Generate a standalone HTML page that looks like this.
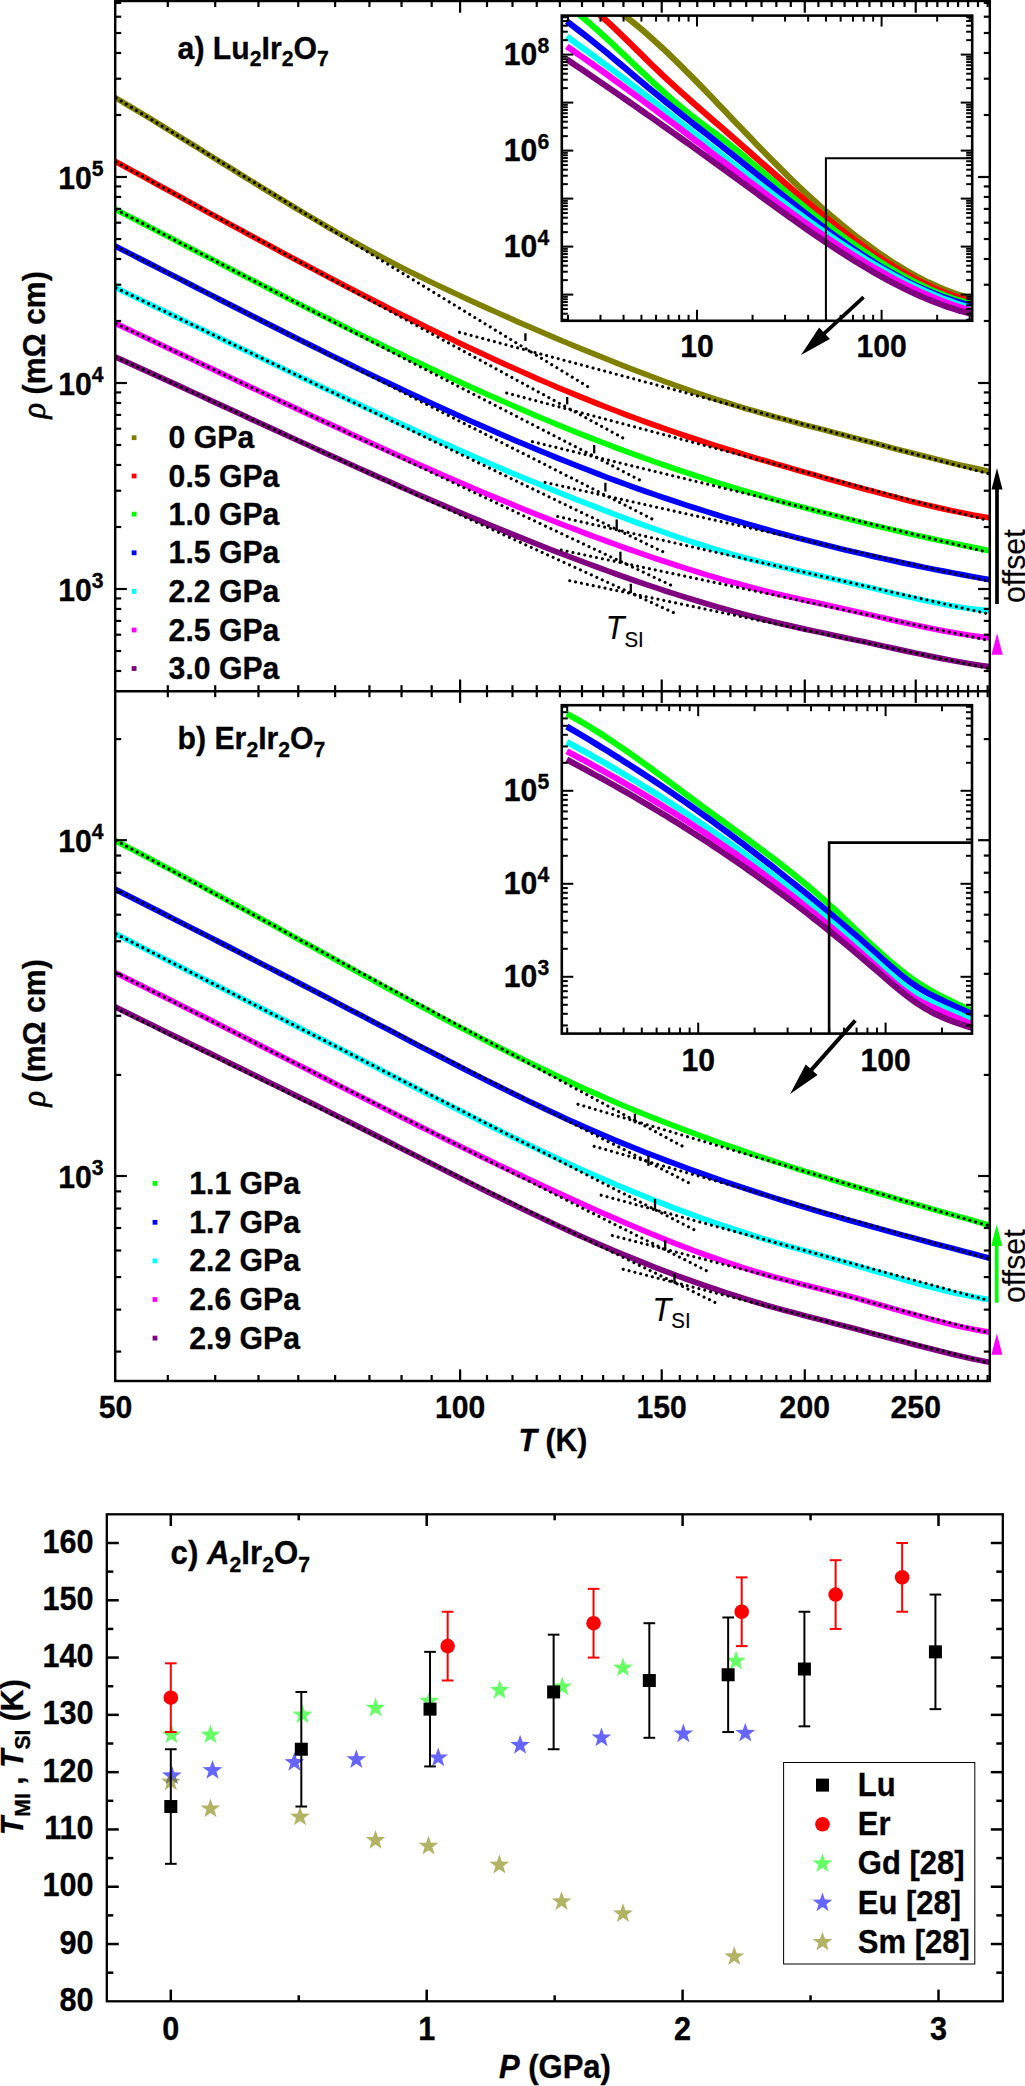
<!DOCTYPE html>
<html><head><meta charset="utf-8"><title>Figure</title><style>html,body{margin:0;padding:0;background:#fff}svg{display:block}</style></head><body>
<svg width="1025" height="2086" viewBox="0 0 1025 2086" font-family="'Liberation Sans', Arial, Helvetica, sans-serif" fill="#000">
<rect x="0" y="0" width="1025" height="2086" fill="#fff"/>
<defs>
<clipPath id="cpA"><rect x="115.2" y="1.0" width="874.5999999999999" height="690.2"/></clipPath>
<clipPath id="cpB"><rect x="115.2" y="691.2" width="874.5999999999999" height="689.8"/></clipPath>
<clipPath id="cpIA"><rect x="561.8" y="15.6" width="410.4000000000001" height="305.2"/></clipPath>
<clipPath id="cpIB"><rect x="561.8" y="705.2" width="410.20000000000005" height="328.39999999999986"/></clipPath>
</defs>
<path d="M112.0,95.7 L121.9,101.6 L131.8,107.5 L141.7,113.4 L151.6,119.4 L161.5,125.5 L171.4,131.6 L181.3,137.7 L191.2,143.8 L201.1,149.9 L211.0,156.1 L220.9,162.2 L230.8,168.3 L240.7,174.5 L250.6,180.6 L260.5,186.7 L270.4,192.7 L280.3,198.8 L290.2,204.7 L300.1,210.7 L310.0,216.6 L319.9,222.4 L329.8,228.2 L339.7,233.9 L349.6,239.5 L359.5,245.0 L369.4,250.4 L379.3,255.8 L389.2,261.0 L399.1,266.2 L409.0,271.2 L418.9,276.1 L428.8,281.0 L438.7,285.7 L448.6,290.4 L458.5,295.0 L468.4,299.6 L478.3,304.1 L488.2,308.6 L498.1,313.0 L508.0,317.4 L517.9,321.8 L527.8,326.1 L537.7,330.4 L547.6,334.6 L557.4,338.8 L567.3,343.0 L577.2,347.1 L587.1,351.2 L597.0,355.2 L606.9,359.2 L616.8,363.2 L626.7,367.1 L636.6,370.9 L646.5,374.7 L656.4,378.4 L666.3,382.1 L676.2,385.6 L686.1,389.1 L696.0,392.6 L705.9,395.9 L715.8,399.2 L725.7,402.3 L735.6,405.4 L745.5,408.4 L755.4,411.3 L765.3,414.1 L775.2,416.9 L785.1,419.6 L795.0,422.3 L804.9,424.9 L814.8,427.5 L824.7,430.1 L834.6,432.7 L844.5,435.3 L854.4,437.9 L864.3,440.5 L874.2,443.1 L884.1,445.8 L894.0,448.4 L903.9,451.0 L913.8,453.5 L923.7,456.1 L933.6,458.5 L943.5,461.0 L953.4,463.4 L963.3,465.7 L973.2,467.9 L983.1,470.1 L993.0,472.2" fill="none" stroke="#808000" stroke-width="5.7" stroke-linejoin="round" clip-path="url(#cpA)"/>
<path d="M112.0,159.5 L121.9,164.9 L131.8,170.4 L141.7,175.8 L151.6,181.3 L161.5,186.7 L171.4,192.1 L181.3,197.6 L191.2,203.0 L201.1,208.4 L211.0,213.9 L220.9,219.3 L230.8,224.7 L240.7,230.1 L250.6,235.4 L260.5,240.8 L270.4,246.1 L280.3,251.5 L290.2,256.8 L300.1,262.1 L310.0,267.3 L319.9,272.6 L329.8,277.8 L339.7,283.0 L349.6,288.1 L359.5,293.3 L369.4,298.4 L379.3,303.4 L389.2,308.5 L399.1,313.5 L409.0,318.4 L418.9,323.3 L428.8,328.2 L438.7,333.0 L448.6,337.8 L458.5,342.6 L468.4,347.3 L478.3,351.9 L488.2,356.5 L498.1,361.1 L508.0,365.6 L517.9,370.0 L527.8,374.4 L537.7,378.8 L547.6,383.0 L557.4,387.3 L567.3,391.4 L577.2,395.5 L587.1,399.5 L597.0,403.5 L606.9,407.4 L616.8,411.2 L626.7,415.0 L636.6,418.6 L646.5,422.2 L656.4,425.8 L666.3,429.2 L676.2,432.6 L686.1,436.0 L696.0,439.3 L705.9,442.5 L715.8,445.6 L725.7,448.8 L735.6,451.8 L745.5,454.9 L755.4,457.9 L765.3,460.8 L775.2,463.7 L785.1,466.6 L795.0,469.5 L804.9,472.3 L814.8,475.1 L824.7,477.9 L834.6,480.7 L844.5,483.4 L854.4,486.2 L864.3,488.9 L874.2,491.6 L884.1,494.2 L894.0,496.8 L903.9,499.4 L913.8,501.9 L923.7,504.3 L933.6,506.6 L943.5,508.9 L953.4,511.0 L963.3,513.0 L973.2,515.0 L983.1,516.7 L993.0,518.4" fill="none" stroke="#ff0000" stroke-width="5.7" stroke-linejoin="round" clip-path="url(#cpA)"/>
<path d="M112.0,207.6 L121.9,212.7 L131.8,217.8 L141.7,222.9 L151.6,228.1 L161.5,233.2 L171.4,238.3 L181.3,243.5 L191.2,248.6 L201.1,253.7 L211.0,258.8 L220.9,264.0 L230.8,269.1 L240.7,274.2 L250.6,279.2 L260.5,284.3 L270.4,289.4 L280.3,294.4 L290.2,299.5 L300.1,304.5 L310.0,309.5 L319.9,314.5 L329.8,319.4 L339.7,324.4 L349.6,329.3 L359.5,334.2 L369.4,339.0 L379.3,343.9 L389.2,348.7 L399.1,353.4 L409.0,358.2 L418.9,362.9 L428.8,367.6 L438.7,372.2 L448.6,376.8 L458.5,381.4 L468.4,385.9 L478.3,390.4 L488.2,394.8 L498.1,399.2 L508.0,403.5 L517.9,407.8 L527.8,412.1 L537.7,416.3 L547.6,420.5 L557.4,424.6 L567.3,428.6 L577.2,432.6 L587.1,436.5 L597.0,440.4 L606.9,444.2 L616.8,448.0 L626.7,451.7 L636.6,455.3 L646.5,458.9 L656.4,462.4 L666.3,465.8 L676.2,469.2 L686.1,472.5 L696.0,475.8 L705.9,479.0 L715.8,482.1 L725.7,485.2 L735.6,488.2 L745.5,491.2 L755.4,494.1 L765.3,496.9 L775.2,499.7 L785.1,502.5 L795.0,505.2 L804.9,507.8 L814.8,510.5 L824.7,513.0 L834.6,515.6 L844.5,518.1 L854.4,520.6 L864.3,523.0 L874.2,525.4 L884.1,527.8 L894.0,530.1 L903.9,532.4 L913.8,534.7 L923.7,536.9 L933.6,539.1 L943.5,541.2 L953.4,543.3 L963.3,545.4 L973.2,547.4 L983.1,549.4 L993.0,551.4" fill="none" stroke="#00ff00" stroke-width="5.7" stroke-linejoin="round" clip-path="url(#cpA)"/>
<path d="M112.0,244.4 L121.9,249.5 L131.8,254.5 L141.7,259.6 L151.6,264.6 L161.5,269.7 L171.4,274.8 L181.3,279.8 L191.2,284.9 L201.1,290.0 L211.0,295.0 L220.9,300.1 L230.8,305.1 L240.7,310.1 L250.6,315.1 L260.5,320.1 L270.4,325.1 L280.3,330.1 L290.2,335.1 L300.1,340.0 L310.0,344.9 L319.9,349.8 L329.8,354.7 L339.7,359.5 L349.6,364.4 L359.5,369.2 L369.4,374.0 L379.3,378.7 L389.2,383.4 L399.1,388.1 L409.0,392.8 L418.9,397.4 L428.8,402.0 L438.7,406.5 L448.6,411.1 L458.5,415.5 L468.4,420.0 L478.3,424.4 L488.2,428.7 L498.1,433.1 L508.0,437.3 L517.9,441.6 L527.8,445.7 L537.7,449.9 L547.6,453.9 L557.4,458.0 L567.3,461.9 L577.2,465.9 L587.1,469.7 L597.0,473.5 L606.9,477.3 L616.8,481.0 L626.7,484.6 L636.6,488.2 L646.5,491.7 L656.4,495.1 L666.3,498.5 L676.2,501.8 L686.1,505.1 L696.0,508.3 L705.9,511.4 L715.8,514.5 L725.7,517.6 L735.6,520.5 L745.5,523.4 L755.4,526.3 L765.3,529.1 L775.2,531.9 L785.1,534.6 L795.0,537.2 L804.9,539.8 L814.8,542.3 L824.7,544.8 L834.6,547.3 L844.5,549.7 L854.4,552.0 L864.3,554.3 L874.2,556.6 L884.1,558.8 L894.0,560.9 L903.9,563.1 L913.8,565.1 L923.7,567.2 L933.6,569.2 L943.5,571.1 L953.4,573.0 L963.3,574.9 L973.2,576.8 L983.1,578.5 L993.0,580.3" fill="none" stroke="#0000ff" stroke-width="5.7" stroke-linejoin="round" clip-path="url(#cpA)"/>
<path d="M112.0,285.9 L121.9,290.7 L131.8,295.5 L141.7,300.3 L151.6,305.1 L161.5,309.8 L171.4,314.6 L181.3,319.4 L191.2,324.2 L201.1,329.0 L211.0,333.8 L220.9,338.6 L230.8,343.4 L240.7,348.2 L250.6,352.9 L260.5,357.7 L270.4,362.5 L280.3,367.2 L290.2,372.0 L300.1,376.7 L310.0,381.4 L319.9,386.1 L329.8,390.8 L339.7,395.4 L349.6,400.1 L359.5,404.7 L369.4,409.3 L379.3,413.9 L389.2,418.5 L399.1,423.1 L409.0,427.6 L418.9,432.1 L428.8,436.6 L438.7,441.0 L448.6,445.4 L458.5,449.8 L468.4,454.2 L478.3,458.5 L488.2,462.8 L498.1,467.0 L508.0,471.3 L517.9,475.5 L527.8,479.6 L537.7,483.7 L547.6,487.8 L557.4,491.8 L567.3,495.8 L577.2,499.8 L587.1,503.7 L597.0,507.5 L606.9,511.3 L616.8,515.1 L626.7,518.8 L636.6,522.5 L646.5,526.1 L656.4,529.6 L666.3,533.1 L676.2,536.6 L686.1,539.9 L696.0,543.2 L705.9,546.3 L715.8,549.4 L725.7,552.4 L735.6,555.2 L745.5,557.9 L755.4,560.5 L765.3,563.0 L775.2,565.4 L785.1,567.8 L795.0,570.1 L804.9,572.4 L814.8,574.6 L824.7,576.9 L834.6,579.2 L844.5,581.5 L854.4,583.9 L864.3,586.2 L874.2,588.6 L884.1,591.0 L894.0,593.4 L903.9,595.7 L913.8,598.0 L923.7,600.2 L933.6,602.3 L943.5,604.3 L953.4,606.1 L963.3,607.7 L973.2,609.1 L983.1,610.2 L993.0,611.1" fill="none" stroke="#00ffff" stroke-width="5.7" stroke-linejoin="round" clip-path="url(#cpA)"/>
<path d="M112.0,321.7 L121.9,326.4 L131.8,331.0 L141.7,335.7 L151.6,340.3 L161.5,345.0 L171.4,349.7 L181.3,354.4 L191.2,359.0 L201.1,363.7 L211.0,368.4 L220.9,373.1 L230.8,377.8 L240.7,382.4 L250.6,387.1 L260.5,391.8 L270.4,396.4 L280.3,401.1 L290.2,405.7 L300.1,410.4 L310.0,415.0 L319.9,419.6 L329.8,424.2 L339.7,428.7 L349.6,433.3 L359.5,437.8 L369.4,442.4 L379.3,446.8 L389.2,451.3 L399.1,455.8 L409.0,460.2 L418.9,464.6 L428.8,468.9 L438.7,473.3 L448.6,477.6 L458.5,481.9 L468.4,486.1 L478.3,490.3 L488.2,494.5 L498.1,498.6 L508.0,502.7 L517.9,506.8 L527.8,510.8 L537.7,514.8 L547.6,518.7 L557.4,522.6 L567.3,526.4 L577.2,530.2 L587.1,534.0 L597.0,537.7 L606.9,541.3 L616.8,544.9 L626.7,548.5 L636.6,551.9 L646.5,555.4 L656.4,558.7 L666.3,562.0 L676.2,565.3 L686.1,568.4 L696.0,571.5 L705.9,574.6 L715.8,577.5 L725.7,580.4 L735.6,583.1 L745.5,585.8 L755.4,588.4 L765.3,591.0 L775.2,593.4 L785.1,595.7 L795.0,598.0 L804.9,600.2 L814.8,602.4 L824.7,604.5 L834.6,606.7 L844.5,609.0 L854.4,611.2 L864.3,613.5 L874.2,615.8 L884.1,618.1 L894.0,620.4 L903.9,622.6 L913.8,624.8 L923.7,626.9 L933.6,628.9 L943.5,630.9 L953.4,632.6 L963.3,634.3 L973.2,635.8 L983.1,637.1 L993.0,638.2" fill="none" stroke="#ff00ff" stroke-width="5.7" stroke-linejoin="round" clip-path="url(#cpA)"/>
<path d="M112.0,355.4 L121.9,359.9 L131.8,364.4 L141.7,368.9 L151.6,373.4 L161.5,377.9 L171.4,382.4 L181.3,386.9 L191.2,391.5 L201.1,396.0 L211.0,400.6 L220.9,405.1 L230.8,409.7 L240.7,414.2 L250.6,418.8 L260.5,423.3 L270.4,427.9 L280.3,432.4 L290.2,437.0 L300.1,441.5 L310.0,446.0 L319.9,450.6 L329.8,455.1 L339.7,459.5 L349.6,464.0 L359.5,468.5 L369.4,472.9 L379.3,477.3 L389.2,481.7 L399.1,486.1 L409.0,490.5 L418.9,494.8 L428.8,499.1 L438.7,503.4 L448.6,507.6 L458.5,511.8 L468.4,516.0 L478.3,520.2 L488.2,524.3 L498.1,528.4 L508.0,532.5 L517.9,536.5 L527.8,540.4 L537.7,544.4 L547.6,548.3 L557.4,552.1 L567.3,555.9 L577.2,559.7 L587.1,563.4 L597.0,567.0 L606.9,570.7 L616.8,574.2 L626.7,577.7 L636.6,581.2 L646.5,584.6 L656.4,587.9 L666.3,591.2 L676.2,594.4 L686.1,597.5 L696.0,600.5 L705.9,603.5 L715.8,606.5 L725.7,609.3 L735.6,612.0 L745.5,614.7 L755.4,617.3 L765.3,619.8 L775.2,622.3 L785.1,624.6 L795.0,626.9 L804.9,629.1 L814.8,631.2 L824.7,633.3 L834.6,635.5 L844.5,637.6 L854.4,639.7 L864.3,641.8 L874.2,644.0 L884.1,646.2 L894.0,648.4 L903.9,650.6 L913.8,652.7 L923.7,654.8 L933.6,656.9 L943.5,658.9 L953.4,660.7 L963.3,662.5 L973.2,664.2 L983.1,665.7 L993.0,667.0" fill="none" stroke="#800080" stroke-width="5.7" stroke-linejoin="round" clip-path="url(#cpA)"/>
<line x1="116.00" y1="97.90" x2="588.50" y2="387.10" stroke="#000" stroke-width="3.1" stroke-linecap="round" stroke-dasharray="0.01 6.0" clip-path="url(#cpA)"/>
<line x1="459.50" y1="332.30" x2="988.00" y2="473.60" stroke="#000" stroke-width="3.1" stroke-linecap="round" stroke-dasharray="0.01 6.0" clip-path="url(#cpA)"/>
<line x1="116.00" y1="161.90" x2="623.60" y2="438.30" stroke="#000" stroke-width="3.1" stroke-linecap="round" stroke-dasharray="0.01 6.0" clip-path="url(#cpA)"/>
<line x1="506.70" y1="393.00" x2="988.00" y2="520.50" stroke="#000" stroke-width="3.1" stroke-linecap="round" stroke-dasharray="0.01 6.0" clip-path="url(#cpA)"/>
<line x1="116.00" y1="209.70" x2="644.50" y2="482.40" stroke="#000" stroke-width="3.1" stroke-linecap="round" stroke-dasharray="0.01 6.0" clip-path="url(#cpA)"/>
<line x1="532.50" y1="441.70" x2="988.00" y2="552.30" stroke="#000" stroke-width="3.1" stroke-linecap="round" stroke-dasharray="0.01 6.0" clip-path="url(#cpA)"/>
<line x1="116.00" y1="246.60" x2="656.10" y2="521.00" stroke="#000" stroke-width="3.1" stroke-linecap="round" stroke-dasharray="0.01 6.0" clip-path="url(#cpA)"/>
<line x1="545.10" y1="482.40" x2="988.00" y2="581.00" stroke="#000" stroke-width="3.1" stroke-linecap="round" stroke-dasharray="0.01 6.0" clip-path="url(#cpA)"/>
<line x1="116.00" y1="287.90" x2="666.30" y2="553.40" stroke="#000" stroke-width="3.1" stroke-linecap="round" stroke-dasharray="0.01 6.0" clip-path="url(#cpA)"/>
<line x1="557.70" y1="516.50" x2="988.00" y2="613.80" stroke="#000" stroke-width="3.1" stroke-linecap="round" stroke-dasharray="0.01 6.0" clip-path="url(#cpA)"/>
<line x1="116.00" y1="323.60" x2="670.70" y2="585.10" stroke="#000" stroke-width="3.1" stroke-linecap="round" stroke-dasharray="0.01 6.0" clip-path="url(#cpA)"/>
<line x1="561.20" y1="550.00" x2="988.00" y2="640.30" stroke="#000" stroke-width="3.1" stroke-linecap="round" stroke-dasharray="0.01 6.0" clip-path="url(#cpA)"/>
<line x1="116.00" y1="357.10" x2="678.30" y2="614.80" stroke="#000" stroke-width="3.1" stroke-linecap="round" stroke-dasharray="0.01 6.0" clip-path="url(#cpA)"/>
<line x1="569.70" y1="580.70" x2="988.00" y2="668.30" stroke="#000" stroke-width="3.1" stroke-linecap="round" stroke-dasharray="0.01 6.0" clip-path="url(#cpA)"/>
<line x1="525.40" y1="333.30" x2="525.40" y2="340.90" stroke="#000" stroke-width="2.3" />
<line x1="567.20" y1="397.00" x2="567.20" y2="404.40" stroke="#000" stroke-width="2.3" />
<line x1="594.20" y1="445.00" x2="594.20" y2="453.40" stroke="#000" stroke-width="2.3" />
<line x1="605.40" y1="482.80" x2="605.40" y2="491.60" stroke="#000" stroke-width="2.3" />
<line x1="616.70" y1="519.50" x2="616.70" y2="529.60" stroke="#000" stroke-width="2.3" />
<line x1="620.40" y1="551.70" x2="620.40" y2="561.00" stroke="#000" stroke-width="2.3" />
<line x1="630.80" y1="583.80" x2="630.80" y2="593.00" stroke="#000" stroke-width="2.3" />
<path d="M112.0,839.0 L121.9,844.1 L131.8,849.3 L141.7,854.4 L151.6,859.6 L161.5,864.9 L171.4,870.1 L181.3,875.4 L191.2,880.7 L201.1,886.1 L211.0,891.4 L220.9,896.8 L230.8,902.2 L240.7,907.6 L250.6,913.0 L260.5,918.4 L270.4,923.8 L280.3,929.3 L290.2,934.7 L300.1,940.2 L310.0,945.6 L319.9,951.1 L329.8,956.6 L339.7,962.0 L349.6,967.5 L359.5,972.9 L369.4,978.3 L379.3,983.8 L389.2,989.2 L399.1,994.6 L409.0,1000.0 L418.9,1005.3 L428.8,1010.6 L438.7,1015.9 L448.6,1021.2 L458.5,1026.4 L468.4,1031.6 L478.3,1036.8 L488.2,1041.9 L498.1,1046.9 L508.0,1051.9 L517.9,1056.9 L527.8,1061.8 L537.7,1066.6 L547.6,1071.4 L557.4,1076.1 L567.3,1080.7 L577.2,1085.3 L587.1,1089.8 L597.0,1094.2 L606.9,1098.5 L616.8,1102.8 L626.7,1107.0 L636.6,1111.1 L646.5,1115.1 L656.4,1119.0 L666.3,1122.9 L676.2,1126.7 L686.1,1130.5 L696.0,1134.2 L705.9,1137.8 L715.8,1141.4 L725.7,1144.9 L735.6,1148.3 L745.5,1151.8 L755.4,1155.1 L765.3,1158.4 L775.2,1161.7 L785.1,1164.9 L795.0,1168.1 L804.9,1171.2 L814.8,1174.3 L824.7,1177.4 L834.6,1180.4 L844.5,1183.4 L854.4,1186.4 L864.3,1189.3 L874.2,1192.2 L884.1,1195.1 L894.0,1198.0 L903.9,1200.9 L913.8,1203.7 L923.7,1206.6 L933.6,1209.4 L943.5,1212.2 L953.4,1215.0 L963.3,1217.8 L973.2,1220.6 L983.1,1223.4 L993.0,1226.2" fill="none" stroke="#00ff00" stroke-width="5.7" stroke-linejoin="round" clip-path="url(#cpB)"/>
<path d="M112.0,887.7 L121.9,892.6 L131.8,897.6 L141.7,902.6 L151.6,907.6 L161.5,912.6 L171.4,917.7 L181.3,922.7 L191.2,927.7 L201.1,932.8 L211.0,937.8 L220.9,942.9 L230.8,947.9 L240.7,953.0 L250.6,958.1 L260.5,963.2 L270.4,968.3 L280.3,973.4 L290.2,978.5 L300.1,983.6 L310.0,988.8 L319.9,993.9 L329.8,999.1 L339.7,1004.2 L349.6,1009.4 L359.5,1014.6 L369.4,1019.7 L379.3,1024.9 L389.2,1030.1 L399.1,1035.3 L409.0,1040.5 L418.9,1045.7 L428.8,1050.8 L438.7,1055.9 L448.6,1061.1 L458.5,1066.1 L468.4,1071.2 L478.3,1076.2 L488.2,1081.2 L498.1,1086.1 L508.0,1091.0 L517.9,1095.9 L527.8,1100.7 L537.7,1105.4 L547.6,1110.1 L557.4,1114.7 L567.3,1119.3 L577.2,1123.7 L587.1,1128.1 L597.0,1132.4 L606.9,1136.7 L616.8,1140.8 L626.7,1144.9 L636.6,1148.9 L646.5,1152.9 L656.4,1156.7 L666.3,1160.5 L676.2,1164.2 L686.1,1167.9 L696.0,1171.5 L705.9,1175.0 L715.8,1178.5 L725.7,1181.9 L735.6,1185.2 L745.5,1188.5 L755.4,1191.8 L765.3,1194.9 L775.2,1198.1 L785.1,1201.2 L795.0,1204.2 L804.9,1207.3 L814.8,1210.2 L824.7,1213.2 L834.6,1216.1 L844.5,1218.9 L854.4,1221.7 L864.3,1224.5 L874.2,1227.3 L884.1,1230.1 L894.0,1232.8 L903.9,1235.5 L913.8,1238.1 L923.7,1240.8 L933.6,1243.4 L943.5,1246.0 L953.4,1248.6 L963.3,1251.2 L973.2,1253.8 L983.1,1256.4 L993.0,1259.0" fill="none" stroke="#0000ff" stroke-width="5.7" stroke-linejoin="round" clip-path="url(#cpB)"/>
<path d="M112.0,931.9 L121.9,937.0 L131.8,942.1 L141.7,947.2 L151.6,952.2 L161.5,957.3 L171.4,962.4 L181.3,967.4 L191.2,972.5 L201.1,977.5 L211.0,982.6 L220.9,987.6 L230.8,992.7 L240.7,997.8 L250.6,1002.8 L260.5,1007.9 L270.4,1012.9 L280.3,1018.0 L290.2,1023.1 L300.1,1028.1 L310.0,1033.2 L319.9,1038.3 L329.8,1043.4 L339.7,1048.5 L349.6,1053.6 L359.5,1058.8 L369.4,1063.9 L379.3,1069.0 L389.2,1074.2 L399.1,1079.3 L409.0,1084.4 L418.9,1089.6 L428.8,1094.7 L438.7,1099.8 L448.6,1104.9 L458.5,1109.9 L468.4,1114.9 L478.3,1120.0 L488.2,1124.9 L498.1,1129.9 L508.0,1134.7 L517.9,1139.6 L527.8,1144.4 L537.7,1149.2 L547.6,1153.9 L557.4,1158.5 L567.3,1163.1 L577.2,1167.6 L587.1,1172.0 L597.0,1176.4 L606.9,1180.7 L616.8,1185.0 L626.7,1189.1 L636.6,1193.2 L646.5,1197.2 L656.4,1201.1 L666.3,1205.0 L676.2,1208.8 L686.1,1212.5 L696.0,1216.1 L705.9,1219.6 L715.8,1223.1 L725.7,1226.5 L735.6,1229.8 L745.5,1233.0 L755.4,1236.2 L765.3,1239.3 L775.2,1242.2 L785.1,1245.2 L795.0,1248.0 L804.9,1250.8 L814.8,1253.6 L824.7,1256.4 L834.6,1259.3 L844.5,1262.1 L854.4,1265.0 L864.3,1267.9 L874.2,1270.9 L884.1,1273.8 L894.0,1276.8 L903.9,1279.7 L913.8,1282.5 L923.7,1285.2 L933.6,1287.8 L943.5,1290.3 L953.4,1292.7 L963.3,1294.8 L973.2,1296.8 L983.1,1298.6 L993.0,1300.1" fill="none" stroke="#00ffff" stroke-width="5.7" stroke-linejoin="round" clip-path="url(#cpB)"/>
<path d="M112.0,971.2 L121.9,976.0 L131.8,980.9 L141.7,985.8 L151.6,990.7 L161.5,995.6 L171.4,1000.5 L181.3,1005.5 L191.2,1010.5 L201.1,1015.4 L211.0,1020.4 L220.9,1025.5 L230.8,1030.5 L240.7,1035.5 L250.6,1040.5 L260.5,1045.6 L270.4,1050.6 L280.3,1055.7 L290.2,1060.7 L300.1,1065.8 L310.0,1070.8 L319.9,1075.9 L329.8,1080.9 L339.7,1086.0 L349.6,1091.0 L359.5,1096.0 L369.4,1101.0 L379.3,1106.0 L389.2,1111.0 L399.1,1116.0 L409.0,1120.9 L418.9,1125.9 L428.8,1130.8 L438.7,1135.7 L448.6,1140.6 L458.5,1145.5 L468.4,1150.3 L478.3,1155.1 L488.2,1159.9 L498.1,1164.7 L508.0,1169.4 L517.9,1174.1 L527.8,1178.8 L537.7,1183.4 L547.6,1188.1 L557.4,1192.6 L567.3,1197.2 L577.2,1201.6 L587.1,1206.1 L597.0,1210.5 L606.9,1214.9 L616.8,1219.2 L626.7,1223.5 L636.6,1227.7 L646.5,1231.8 L656.4,1235.9 L666.3,1239.9 L676.2,1243.8 L686.1,1247.6 L696.0,1251.3 L705.9,1255.0 L715.8,1258.5 L725.7,1261.9 L735.6,1265.2 L745.5,1268.4 L755.4,1271.4 L765.3,1274.4 L775.2,1277.2 L785.1,1279.8 L795.0,1282.4 L804.9,1284.9 L814.8,1287.4 L824.7,1289.9 L834.6,1292.4 L844.5,1295.0 L854.4,1297.6 L864.3,1300.4 L874.2,1303.2 L884.1,1306.0 L894.0,1308.9 L903.9,1311.7 L913.8,1314.5 L923.7,1317.3 L933.6,1319.9 L943.5,1322.5 L953.4,1324.9 L963.3,1327.2 L973.2,1329.2 L983.1,1331.1 L993.0,1332.7" fill="none" stroke="#ff00ff" stroke-width="5.7" stroke-linejoin="round" clip-path="url(#cpB)"/>
<path d="M112.0,1005.2 L121.9,1010.2 L131.8,1015.1 L141.7,1020.0 L151.6,1024.8 L161.5,1029.7 L171.4,1034.6 L181.3,1039.4 L191.2,1044.3 L201.1,1049.1 L211.0,1053.9 L220.9,1058.8 L230.8,1063.6 L240.7,1068.4 L250.6,1073.3 L260.5,1078.1 L270.4,1083.0 L280.3,1087.8 L290.2,1092.7 L300.1,1097.6 L310.0,1102.4 L319.9,1107.3 L329.8,1112.3 L339.7,1117.2 L349.6,1122.1 L359.5,1127.1 L369.4,1132.1 L379.3,1137.1 L389.2,1142.1 L399.1,1147.2 L409.0,1152.2 L418.9,1157.2 L428.8,1162.3 L438.7,1167.3 L448.6,1172.3 L458.5,1177.3 L468.4,1182.3 L478.3,1187.2 L488.2,1192.2 L498.1,1197.0 L508.0,1201.9 L517.9,1206.7 L527.8,1211.5 L537.7,1216.2 L547.6,1220.9 L557.4,1225.5 L567.3,1230.1 L577.2,1234.6 L587.1,1239.0 L597.0,1243.3 L606.9,1247.6 L616.8,1251.8 L626.7,1255.9 L636.6,1260.0 L646.5,1263.9 L656.4,1267.8 L666.3,1271.6 L676.2,1275.3 L686.1,1279.0 L696.0,1282.5 L705.9,1286.0 L715.8,1289.3 L725.7,1292.6 L735.6,1295.8 L745.5,1298.9 L755.4,1301.9 L765.3,1304.9 L775.2,1307.7 L785.1,1310.4 L795.0,1313.1 L804.9,1315.7 L814.8,1318.3 L824.7,1320.8 L834.6,1323.4 L844.5,1326.0 L854.4,1328.6 L864.3,1331.2 L874.2,1333.9 L884.1,1336.5 L894.0,1339.2 L903.9,1341.8 L913.8,1344.5 L923.7,1347.0 L933.6,1349.6 L943.5,1352.0 L953.4,1354.4 L963.3,1356.7 L973.2,1359.0 L983.1,1361.0 L993.0,1363.0" fill="none" stroke="#800080" stroke-width="5.7" stroke-linejoin="round" clip-path="url(#cpB)"/>
<line x1="116.00" y1="840.60" x2="682.20" y2="1146.10" stroke="#000" stroke-width="3.1" stroke-linecap="round" stroke-dasharray="0.01 6.0" clip-path="url(#cpB)"/>
<line x1="578.00" y1="1104.30" x2="988.00" y2="1225.60" stroke="#000" stroke-width="3.1" stroke-linecap="round" stroke-dasharray="0.01 6.0" clip-path="url(#cpB)"/>
<line x1="116.00" y1="889.40" x2="693.40" y2="1185.20" stroke="#000" stroke-width="3.1" stroke-linecap="round" stroke-dasharray="0.01 6.0" clip-path="url(#cpB)"/>
<line x1="594.10" y1="1146.30" x2="988.00" y2="1258.50" stroke="#000" stroke-width="3.1" stroke-linecap="round" stroke-dasharray="0.01 6.0" clip-path="url(#cpB)"/>
<line x1="116.00" y1="934.00" x2="699.20" y2="1232.30" stroke="#000" stroke-width="3.1" stroke-linecap="round" stroke-dasharray="0.01 6.0" clip-path="url(#cpB)"/>
<line x1="601.20" y1="1195.20" x2="988.00" y2="1300.30" stroke="#000" stroke-width="3.1" stroke-linecap="round" stroke-dasharray="0.01 6.0" clip-path="url(#cpB)"/>
<line x1="116.00" y1="972.80" x2="709.90" y2="1272.40" stroke="#000" stroke-width="3.1" stroke-linecap="round" stroke-dasharray="0.01 6.0" clip-path="url(#cpB)"/>
<line x1="612.30" y1="1235.60" x2="988.00" y2="1332.70" stroke="#000" stroke-width="3.1" stroke-linecap="round" stroke-dasharray="0.01 6.0" clip-path="url(#cpB)"/>
<line x1="116.00" y1="1008.40" x2="720.10" y2="1304.90" stroke="#000" stroke-width="3.1" stroke-linecap="round" stroke-dasharray="0.01 6.0" clip-path="url(#cpB)"/>
<line x1="623.20" y1="1269.30" x2="988.00" y2="1362.60" stroke="#000" stroke-width="3.1" stroke-linecap="round" stroke-dasharray="0.01 6.0" clip-path="url(#cpB)"/>
<line x1="634.90" y1="1113.70" x2="634.90" y2="1123.40" stroke="#000" stroke-width="2.3" />
<line x1="648.40" y1="1155.40" x2="648.40" y2="1165.90" stroke="#000" stroke-width="2.3" />
<line x1="655.00" y1="1199.00" x2="655.00" y2="1209.60" stroke="#000" stroke-width="2.3" />
<line x1="665.20" y1="1240.30" x2="665.20" y2="1250.30" stroke="#000" stroke-width="2.3" />
<line x1="674.50" y1="1273.50" x2="674.50" y2="1283.50" stroke="#000" stroke-width="2.3" />
<rect x="561.8" y="15.6" width="410.4000000000001" height="305.2" fill="#fff"/>
<path d="M600.0,-1.5 L605.4,1.9 L610.8,5.6 L616.2,9.4 L621.5,13.4 L626.9,17.5 L632.3,21.8 L637.7,26.2 L643.1,30.7 L648.5,35.4 L653.8,40.2 L659.2,45.1 L664.6,50.1 L670.0,55.3 L675.4,60.4 L680.8,65.7 L686.1,71.1 L691.5,76.5 L696.9,82.0 L702.3,87.5 L707.7,93.1 L713.1,98.7 L718.4,104.3 L723.8,109.9 L729.2,115.6 L734.6,121.3 L740.0,126.9 L745.4,132.6 L750.8,138.2 L756.1,143.8 L761.5,149.4 L766.9,154.9 L772.3,160.4 L777.7,165.8 L783.1,171.2 L788.4,176.5 L793.8,181.7 L799.2,186.9 L804.6,192.0 L810.0,197.0 L815.4,201.9 L820.7,206.7 L826.1,211.5 L831.5,216.1 L836.9,220.7 L842.3,225.2 L847.7,229.6 L853.1,233.9 L858.4,238.1 L863.8,242.1 L869.2,246.1 L874.6,250.0 L880.0,253.8 L885.4,257.4 L890.7,261.0 L896.1,264.4 L901.5,267.7 L906.9,270.9 L912.3,274.0 L917.7,276.9 L923.0,279.7 L928.4,282.4 L933.8,284.9 L939.2,287.3 L944.6,289.6 L950.0,291.7 L955.3,293.7 L960.7,295.5 L966.1,297.2 L971.5,298.8" fill="none" stroke="#808000" stroke-width="6.2" stroke-linejoin="round" clip-path="url(#cpIA)"/>
<path d="M578.0,-0.8 L583.7,2.8 L589.4,6.8 L595.1,11.2 L600.8,15.9 L606.5,20.8 L612.2,26.0 L617.9,31.4 L623.6,36.9 L629.3,42.5 L635.0,48.2 L640.7,53.8 L646.4,59.5 L652.1,65.1 L657.8,70.6 L663.5,76.0 L669.2,81.3 L674.9,86.5 L680.7,91.7 L686.4,96.8 L692.1,101.8 L697.8,106.9 L703.5,111.8 L709.2,116.8 L714.9,121.8 L720.6,126.7 L726.3,131.7 L732.0,136.6 L737.7,141.6 L743.4,146.6 L749.1,151.6 L754.8,156.6 L760.5,161.7 L766.2,166.7 L771.9,171.7 L777.6,176.7 L783.3,181.6 L789.0,186.6 L794.7,191.5 L800.4,196.4 L806.1,201.2 L811.8,206.0 L817.5,210.7 L823.2,215.4 L828.9,220.0 L834.6,224.6 L840.3,229.1 L846.0,233.5 L851.7,237.8 L857.4,242.0 L863.1,246.2 L868.8,250.2 L874.6,254.2 L880.3,258.1 L886.0,261.8 L891.7,265.4 L897.4,268.9 L903.1,272.3 L908.8,275.5 L914.5,278.7 L920.2,281.6 L925.9,284.4 L931.6,287.1 L937.3,289.6 L943.0,292.0 L948.7,294.2 L954.4,296.2 L960.1,298.0 L965.8,299.7 L971.5,301.2" fill="none" stroke="#ff0000" stroke-width="6.2" stroke-linejoin="round" clip-path="url(#cpIA)"/>
<path d="M560.0,-0.1 L566.0,4.2 L571.9,8.7 L577.9,13.4 L583.9,18.3 L589.8,23.4 L595.8,28.7 L601.7,34.0 L607.7,39.5 L613.7,45.1 L619.6,50.7 L625.6,56.3 L631.6,62.0 L637.5,67.7 L643.5,73.3 L649.5,79.0 L655.4,84.5 L661.4,89.9 L667.3,95.3 L673.3,100.5 L679.3,105.6 L685.2,110.5 L691.2,115.3 L697.2,119.9 L703.1,124.4 L709.1,128.9 L715.1,133.3 L721.0,137.8 L727.0,142.4 L732.9,147.1 L738.9,152.0 L744.9,156.9 L750.8,162.0 L756.8,167.0 L762.8,172.2 L768.7,177.3 L774.7,182.4 L780.7,187.5 L786.6,192.4 L792.6,197.4 L798.6,202.2 L804.5,207.0 L810.5,211.8 L816.4,216.4 L822.4,221.1 L828.4,225.6 L834.3,230.1 L840.3,234.5 L846.3,238.9 L852.2,243.1 L858.2,247.3 L864.2,251.4 L870.1,255.4 L876.1,259.3 L882.0,263.2 L888.0,266.9 L894.0,270.4 L899.9,273.9 L905.9,277.2 L911.9,280.4 L917.8,283.5 L923.8,286.4 L929.8,289.2 L935.7,291.8 L941.7,294.2 L947.6,296.5 L953.6,298.6 L959.6,300.5 L965.5,302.2 L971.5,303.8" fill="none" stroke="#00ff00" stroke-width="6.2" stroke-linejoin="round" clip-path="url(#cpIA)"/>
<path d="M566.8,21.3 L572.7,25.7 L578.5,30.2 L584.4,34.7 L590.3,39.4 L596.1,44.1 L602.0,48.9 L607.9,53.7 L613.7,58.6 L619.6,63.5 L625.5,68.4 L631.3,73.4 L637.2,78.3 L643.0,83.2 L648.9,88.1 L654.8,92.9 L660.6,97.7 L666.5,102.5 L672.4,107.2 L678.2,111.8 L684.1,116.5 L690.0,121.1 L695.8,125.7 L701.7,130.3 L707.6,134.9 L713.4,139.5 L719.3,144.1 L725.2,148.8 L731.0,153.4 L736.9,158.1 L742.8,162.8 L748.6,167.6 L754.5,172.3 L760.4,177.1 L766.2,181.9 L772.1,186.6 L777.9,191.4 L783.8,196.1 L789.7,200.8 L795.5,205.5 L801.4,210.1 L807.3,214.7 L813.1,219.3 L819.0,223.8 L824.9,228.2 L830.7,232.6 L836.6,236.9 L842.5,241.1 L848.3,245.3 L854.2,249.3 L860.1,253.3 L865.9,257.1 L871.8,260.9 L877.7,264.6 L883.5,268.1 L889.4,271.5 L895.3,274.8 L901.1,278.0 L907.0,281.0 L912.8,283.9 L918.7,286.7 L924.6,289.4 L930.4,291.9 L936.3,294.3 L942.2,296.6 L948.0,298.7 L953.9,300.7 L959.8,302.5 L965.6,304.2 L971.5,305.8" fill="none" stroke="#0000ff" stroke-width="6.2" stroke-linejoin="round" clip-path="url(#cpIA)"/>
<path d="M566.8,36.5 L572.7,40.7 L578.5,44.9 L584.4,49.2 L590.3,53.5 L596.1,57.8 L602.0,62.2 L607.9,66.5 L613.7,70.9 L619.6,75.4 L625.5,79.8 L631.3,84.3 L637.2,88.8 L643.0,93.3 L648.9,97.8 L654.8,102.3 L660.6,106.9 L666.5,111.4 L672.4,116.0 L678.2,120.6 L684.1,125.2 L690.0,129.8 L695.8,134.4 L701.7,139.0 L707.6,143.6 L713.4,148.2 L719.3,152.8 L725.2,157.4 L731.0,162.0 L736.9,166.5 L742.8,171.1 L748.6,175.7 L754.5,180.2 L760.4,184.7 L766.2,189.2 L772.1,193.7 L777.9,198.2 L783.8,202.6 L789.7,207.0 L795.5,211.3 L801.4,215.6 L807.3,219.9 L813.1,224.1 L819.0,228.2 L824.9,232.3 L830.7,236.4 L836.6,240.3 L842.5,244.3 L848.3,248.1 L854.2,251.9 L860.1,255.6 L865.9,259.3 L871.8,262.8 L877.7,266.3 L883.5,269.7 L889.4,273.0 L895.3,276.2 L901.1,279.3 L907.0,282.4 L912.8,285.3 L918.7,288.1 L924.6,290.8 L930.4,293.4 L936.3,295.9 L942.2,298.3 L948.0,300.5 L953.9,302.7 L959.8,304.7 L965.6,306.5 L971.5,308.3" fill="none" stroke="#00ffff" stroke-width="6.2" stroke-linejoin="round" clip-path="url(#cpIA)"/>
<path d="M566.8,46.5 L572.7,50.4 L578.5,54.5 L584.4,58.5 L590.3,62.6 L596.1,66.8 L602.0,70.9 L607.9,75.1 L613.7,79.4 L619.6,83.6 L625.5,87.9 L631.3,92.2 L637.2,96.5 L643.0,100.9 L648.9,105.2 L654.8,109.6 L660.6,114.0 L666.5,118.4 L672.4,122.8 L678.2,127.3 L684.1,131.7 L690.0,136.2 L695.8,140.7 L701.7,145.1 L707.6,149.6 L713.4,154.1 L719.3,158.6 L725.2,163.0 L731.0,167.5 L736.9,172.0 L742.8,176.4 L748.6,180.9 L754.5,185.3 L760.4,189.8 L766.2,194.2 L772.1,198.5 L777.9,202.9 L783.8,207.2 L789.7,211.5 L795.5,215.7 L801.4,220.0 L807.3,224.1 L813.1,228.3 L819.0,232.3 L824.9,236.4 L830.7,240.3 L836.6,244.2 L842.5,248.1 L848.3,251.9 L854.2,255.6 L860.1,259.2 L865.9,262.8 L871.8,266.3 L877.7,269.7 L883.5,273.0 L889.4,276.2 L895.3,279.4 L901.1,282.4 L907.0,285.4 L912.8,288.3 L918.7,291.0 L924.6,293.7 L930.4,296.2 L936.3,298.6 L942.2,300.9 L948.0,303.1 L953.9,305.2 L959.8,307.1 L965.6,308.9 L971.5,310.6" fill="none" stroke="#ff00ff" stroke-width="6.2" stroke-linejoin="round" clip-path="url(#cpIA)"/>
<path d="M566.8,59.4 L572.7,63.3 L578.5,67.3 L584.4,71.2 L590.3,75.2 L596.1,79.2 L602.0,83.2 L607.9,87.2 L613.7,91.3 L619.6,95.3 L625.5,99.4 L631.3,103.4 L637.2,107.5 L643.0,111.6 L648.9,115.7 L654.8,119.8 L660.6,124.0 L666.5,128.1 L672.4,132.3 L678.2,136.4 L684.1,140.6 L690.0,144.8 L695.8,149.0 L701.7,153.2 L707.6,157.4 L713.4,161.7 L719.3,165.9 L725.2,170.2 L731.0,174.5 L736.9,178.8 L742.8,183.0 L748.6,187.3 L754.5,191.6 L760.4,195.9 L766.2,200.2 L772.1,204.5 L777.9,208.7 L783.8,212.9 L789.7,217.1 L795.5,221.3 L801.4,225.5 L807.3,229.6 L813.1,233.6 L819.0,237.6 L824.9,241.6 L830.7,245.5 L836.6,249.4 L842.5,253.2 L848.3,256.9 L854.2,260.6 L860.1,264.2 L865.9,267.7 L871.8,271.2 L877.7,274.5 L883.5,277.8 L889.4,281.0 L895.3,284.1 L901.1,287.1 L907.0,290.0 L912.8,292.7 L918.7,295.4 L924.6,298.0 L930.4,300.4 L936.3,302.7 L942.2,304.9 L948.0,307.0 L953.9,308.9 L959.8,310.7 L965.6,312.3 L971.5,313.8" fill="none" stroke="#800080" stroke-width="6.2" stroke-linejoin="round" clip-path="url(#cpIA)"/>
<rect x="561.8" y="705.2" width="410.20000000000005" height="328.39999999999986" fill="#fff"/>
<path d="M566.8,713.7 L572.7,716.9 L578.5,720.2 L584.4,723.6 L590.3,727.1 L596.1,730.8 L602.0,734.5 L607.9,738.3 L613.7,742.2 L619.6,746.2 L625.5,750.2 L631.3,754.3 L637.2,758.5 L643.0,762.7 L648.9,766.9 L654.8,771.2 L660.6,775.5 L666.5,779.8 L672.4,784.2 L678.2,788.5 L684.1,792.9 L690.0,797.3 L695.8,801.6 L701.7,805.9 L707.6,810.3 L713.4,814.6 L719.3,818.8 L725.2,823.1 L731.0,827.3 L736.9,831.6 L742.8,835.8 L748.6,840.1 L754.5,844.4 L760.4,848.7 L766.2,853.1 L772.1,857.5 L777.9,862.0 L783.8,866.5 L789.7,871.1 L795.5,875.8 L801.4,880.6 L807.3,885.5 L813.1,890.4 L819.0,895.5 L824.9,900.7 L830.7,906.0 L836.6,911.4 L842.5,917.0 L848.3,922.6 L854.2,928.2 L860.1,933.8 L865.9,939.4 L871.8,944.9 L877.7,950.3 L883.5,955.6 L889.4,960.8 L895.3,965.7 L901.1,970.5 L907.0,975.0 L912.8,979.3 L918.7,983.3 L924.6,987.0 L930.4,990.4 L936.3,993.7 L942.2,996.7 L948.0,999.6 L953.9,1002.5 L959.8,1005.3 L965.6,1008.1 L971.5,1010.9" fill="none" stroke="#00ff00" stroke-width="6.2" stroke-linejoin="round" clip-path="url(#cpIB)"/>
<path d="M566.8,726.5 L572.7,730.0 L578.5,733.4 L584.4,736.9 L590.3,740.4 L596.1,744.0 L602.0,747.6 L607.9,751.2 L613.7,754.9 L619.6,758.5 L625.5,762.3 L631.3,766.0 L637.2,769.8 L643.0,773.6 L648.9,777.5 L654.8,781.4 L660.6,785.3 L666.5,789.3 L672.4,793.2 L678.2,797.3 L684.1,801.3 L690.0,805.4 L695.8,809.5 L701.7,813.7 L707.6,817.9 L713.4,822.1 L719.3,826.4 L725.2,830.7 L731.0,835.0 L736.9,839.4 L742.8,843.8 L748.6,848.2 L754.5,852.7 L760.4,857.2 L766.2,861.7 L772.1,866.3 L777.9,870.9 L783.8,875.6 L789.7,880.3 L795.5,885.0 L801.4,889.7 L807.3,894.5 L813.1,899.3 L819.0,904.2 L824.9,909.1 L830.7,914.0 L836.6,919.0 L842.5,924.0 L848.3,929.0 L854.2,934.1 L860.1,939.2 L865.9,944.4 L871.8,949.6 L877.7,954.8 L883.5,960.0 L889.4,965.2 L895.3,970.2 L901.1,975.1 L907.0,979.7 L912.8,983.9 L918.7,987.8 L924.6,991.3 L930.4,994.6 L936.3,997.6 L942.2,1000.4 L948.0,1003.2 L953.9,1005.8 L959.8,1008.5 L965.6,1011.1 L971.5,1013.9" fill="none" stroke="#0000ff" stroke-width="6.2" stroke-linejoin="round" clip-path="url(#cpIB)"/>
<path d="M566.8,741.9 L572.7,745.1 L578.5,748.3 L584.4,751.5 L590.3,754.8 L596.1,758.1 L602.0,761.4 L607.9,764.8 L613.7,768.2 L619.6,771.6 L625.5,775.1 L631.3,778.6 L637.2,782.2 L643.0,785.8 L648.9,789.4 L654.8,793.0 L660.6,796.7 L666.5,800.5 L672.4,804.2 L678.2,808.1 L684.1,811.9 L690.0,815.8 L695.8,819.7 L701.7,823.7 L707.6,827.7 L713.4,831.7 L719.3,835.8 L725.2,840.0 L731.0,844.1 L736.9,848.3 L742.8,852.6 L748.6,856.9 L754.5,861.2 L760.4,865.6 L766.2,870.0 L772.1,874.5 L777.9,879.0 L783.8,883.5 L789.7,888.1 L795.5,892.8 L801.4,897.5 L807.3,902.2 L813.1,907.0 L819.0,911.8 L824.9,916.6 L830.7,921.6 L836.6,926.5 L842.5,931.5 L848.3,936.6 L854.2,941.7 L860.1,946.8 L865.9,952.0 L871.8,957.2 L877.7,962.5 L883.5,967.8 L889.4,973.1 L895.3,978.1 L901.1,983.0 L907.0,987.5 L912.8,991.7 L918.7,995.4 L924.6,998.6 L930.4,1001.6 L936.3,1004.4 L942.2,1007.0 L948.0,1009.6 L953.9,1012.1 L959.8,1014.7 L965.6,1017.4 L971.5,1020.2" fill="none" stroke="#00ffff" stroke-width="6.2" stroke-linejoin="round" clip-path="url(#cpIB)"/>
<path d="M566.8,751.2 L572.7,754.3 L578.5,757.5 L584.4,760.6 L590.3,763.8 L596.1,767.0 L602.0,770.3 L607.9,773.6 L613.7,776.9 L619.6,780.2 L625.5,783.6 L631.3,787.0 L637.2,790.5 L643.0,794.0 L648.9,797.5 L654.8,801.0 L660.6,804.6 L666.5,808.3 L672.4,811.9 L678.2,815.6 L684.1,819.4 L690.0,823.2 L695.8,827.0 L701.7,830.8 L707.6,834.7 L713.4,838.7 L719.3,842.7 L725.2,846.7 L731.0,850.8 L736.9,854.9 L742.8,859.0 L748.6,863.2 L754.5,867.5 L760.4,871.7 L766.2,876.1 L772.1,880.5 L777.9,884.9 L783.8,889.4 L789.7,893.9 L795.5,898.5 L801.4,903.1 L807.3,907.8 L813.1,912.5 L819.0,917.2 L824.9,922.1 L830.7,926.9 L836.6,931.9 L842.5,936.8 L848.3,941.9 L854.2,947.0 L860.1,952.1 L865.9,957.3 L871.8,962.6 L877.7,967.9 L883.5,973.2 L889.4,978.4 L895.3,983.5 L901.1,988.3 L907.0,992.8 L912.8,996.8 L918.7,1000.3 L924.6,1003.4 L930.4,1006.2 L936.3,1008.9 L942.2,1011.5 L948.0,1014.1 L953.9,1016.6 L959.8,1019.2 L965.6,1021.7 L971.5,1024.2" fill="none" stroke="#ff00ff" stroke-width="6.2" stroke-linejoin="round" clip-path="url(#cpIB)"/>
<path d="M566.8,759.6 L572.7,762.7 L578.5,765.9 L584.4,769.0 L590.3,772.2 L596.1,775.4 L602.0,778.6 L607.9,781.9 L613.7,785.1 L619.6,788.5 L625.5,791.8 L631.3,795.2 L637.2,798.6 L643.0,802.1 L648.9,805.5 L654.8,809.1 L660.6,812.6 L666.5,816.2 L672.4,819.8 L678.2,823.4 L684.1,827.1 L690.0,830.9 L695.8,834.6 L701.7,838.4 L707.6,842.2 L713.4,846.1 L719.3,850.0 L725.2,854.0 L731.0,857.9 L736.9,862.0 L742.8,866.0 L748.6,870.1 L754.5,874.3 L760.4,878.5 L766.2,882.7 L772.1,886.9 L777.9,891.3 L783.8,895.6 L789.7,900.0 L795.5,904.4 L801.4,908.9 L807.3,913.4 L813.1,918.0 L819.0,922.6 L824.9,927.3 L830.7,932.0 L836.6,936.8 L842.5,941.6 L848.3,946.4 L854.2,951.3 L860.1,956.3 L865.9,961.3 L871.8,966.3 L877.7,971.4 L883.5,976.5 L889.4,981.6 L895.3,986.6 L901.1,991.4 L907.0,996.0 L912.8,1000.4 L918.7,1004.4 L924.6,1008.0 L930.4,1011.4 L936.3,1014.4 L942.2,1017.1 L948.0,1019.6 L953.9,1021.8 L959.8,1023.9 L965.6,1025.8 L971.5,1027.7" fill="none" stroke="#800080" stroke-width="6.2" stroke-linejoin="round" clip-path="url(#cpIB)"/>
<polyline points="825.90,320.80 825.90,158.30 972.20,158.30" fill="none" stroke="#000" stroke-width="2.0"/>
<polyline points="829.10,1033.60 829.10,842.60 972.00,842.60" fill="none" stroke="#000" stroke-width="2.6"/>
<rect x="561.8" y="15.6" width="410.4000000000001" height="305.2" fill="none" stroke="#000" stroke-width="2.6"/>
<line x1="567.97" y1="15.60" x2="567.97" y2="21.60" stroke="#000" stroke-width="2.0" />
<line x1="567.97" y1="320.80" x2="567.97" y2="314.80" stroke="#000" stroke-width="2.0" />
<line x1="600.48" y1="15.60" x2="600.48" y2="21.60" stroke="#000" stroke-width="2.0" />
<line x1="600.48" y1="320.80" x2="600.48" y2="314.80" stroke="#000" stroke-width="2.0" />
<line x1="623.54" y1="15.60" x2="623.54" y2="21.60" stroke="#000" stroke-width="2.0" />
<line x1="623.54" y1="320.80" x2="623.54" y2="314.80" stroke="#000" stroke-width="2.0" />
<line x1="641.43" y1="15.60" x2="641.43" y2="21.60" stroke="#000" stroke-width="2.0" />
<line x1="641.43" y1="320.80" x2="641.43" y2="314.80" stroke="#000" stroke-width="2.0" />
<line x1="656.05" y1="15.60" x2="656.05" y2="21.60" stroke="#000" stroke-width="2.0" />
<line x1="656.05" y1="320.80" x2="656.05" y2="314.80" stroke="#000" stroke-width="2.0" />
<line x1="668.41" y1="15.60" x2="668.41" y2="21.60" stroke="#000" stroke-width="2.0" />
<line x1="668.41" y1="320.80" x2="668.41" y2="314.80" stroke="#000" stroke-width="2.0" />
<line x1="679.11" y1="15.60" x2="679.11" y2="21.60" stroke="#000" stroke-width="2.0" />
<line x1="679.11" y1="320.80" x2="679.11" y2="314.80" stroke="#000" stroke-width="2.0" />
<line x1="688.55" y1="15.60" x2="688.55" y2="21.60" stroke="#000" stroke-width="2.0" />
<line x1="688.55" y1="320.80" x2="688.55" y2="314.80" stroke="#000" stroke-width="2.0" />
<line x1="697.00" y1="15.60" x2="697.00" y2="26.60" stroke="#000" stroke-width="2.0" />
<line x1="697.00" y1="320.80" x2="697.00" y2="309.80" stroke="#000" stroke-width="2.0" />
<line x1="752.57" y1="15.60" x2="752.57" y2="21.60" stroke="#000" stroke-width="2.0" />
<line x1="752.57" y1="320.80" x2="752.57" y2="314.80" stroke="#000" stroke-width="2.0" />
<line x1="785.08" y1="15.60" x2="785.08" y2="21.60" stroke="#000" stroke-width="2.0" />
<line x1="785.08" y1="320.80" x2="785.08" y2="314.80" stroke="#000" stroke-width="2.0" />
<line x1="808.14" y1="15.60" x2="808.14" y2="21.60" stroke="#000" stroke-width="2.0" />
<line x1="808.14" y1="320.80" x2="808.14" y2="314.80" stroke="#000" stroke-width="2.0" />
<line x1="826.03" y1="15.60" x2="826.03" y2="21.60" stroke="#000" stroke-width="2.0" />
<line x1="826.03" y1="320.80" x2="826.03" y2="314.80" stroke="#000" stroke-width="2.0" />
<line x1="840.65" y1="15.60" x2="840.65" y2="21.60" stroke="#000" stroke-width="2.0" />
<line x1="840.65" y1="320.80" x2="840.65" y2="314.80" stroke="#000" stroke-width="2.0" />
<line x1="853.01" y1="15.60" x2="853.01" y2="21.60" stroke="#000" stroke-width="2.0" />
<line x1="853.01" y1="320.80" x2="853.01" y2="314.80" stroke="#000" stroke-width="2.0" />
<line x1="863.71" y1="15.60" x2="863.71" y2="21.60" stroke="#000" stroke-width="2.0" />
<line x1="863.71" y1="320.80" x2="863.71" y2="314.80" stroke="#000" stroke-width="2.0" />
<line x1="873.15" y1="15.60" x2="873.15" y2="21.60" stroke="#000" stroke-width="2.0" />
<line x1="873.15" y1="320.80" x2="873.15" y2="314.80" stroke="#000" stroke-width="2.0" />
<line x1="881.60" y1="15.60" x2="881.60" y2="26.60" stroke="#000" stroke-width="2.0" />
<line x1="881.60" y1="320.80" x2="881.60" y2="309.80" stroke="#000" stroke-width="2.0" />
<line x1="937.17" y1="15.60" x2="937.17" y2="21.60" stroke="#000" stroke-width="2.0" />
<line x1="937.17" y1="320.80" x2="937.17" y2="314.80" stroke="#000" stroke-width="2.0" />
<line x1="969.68" y1="15.60" x2="969.68" y2="21.60" stroke="#000" stroke-width="2.0" />
<line x1="969.68" y1="320.80" x2="969.68" y2="314.80" stroke="#000" stroke-width="2.0" />
<line x1="561.80" y1="319.70" x2="567.80" y2="319.70" stroke="#000" stroke-width="2.0" />
<line x1="972.20" y1="319.70" x2="966.20" y2="319.70" stroke="#000" stroke-width="2.0" />
<line x1="561.80" y1="313.70" x2="567.80" y2="313.70" stroke="#000" stroke-width="2.0" />
<line x1="972.20" y1="313.70" x2="966.20" y2="313.70" stroke="#000" stroke-width="2.0" />
<line x1="561.80" y1="309.05" x2="567.80" y2="309.05" stroke="#000" stroke-width="2.0" />
<line x1="972.20" y1="309.05" x2="966.20" y2="309.05" stroke="#000" stroke-width="2.0" />
<line x1="561.80" y1="305.25" x2="567.80" y2="305.25" stroke="#000" stroke-width="2.0" />
<line x1="972.20" y1="305.25" x2="966.20" y2="305.25" stroke="#000" stroke-width="2.0" />
<line x1="561.80" y1="302.04" x2="567.80" y2="302.04" stroke="#000" stroke-width="2.0" />
<line x1="972.20" y1="302.04" x2="966.20" y2="302.04" stroke="#000" stroke-width="2.0" />
<line x1="561.80" y1="299.25" x2="567.80" y2="299.25" stroke="#000" stroke-width="2.0" />
<line x1="972.20" y1="299.25" x2="966.20" y2="299.25" stroke="#000" stroke-width="2.0" />
<line x1="561.80" y1="296.80" x2="567.80" y2="296.80" stroke="#000" stroke-width="2.0" />
<line x1="972.20" y1="296.80" x2="966.20" y2="296.80" stroke="#000" stroke-width="2.0" />
<line x1="561.80" y1="294.60" x2="573.30" y2="294.60" stroke="#000" stroke-width="2.0" />
<line x1="972.20" y1="294.60" x2="960.70" y2="294.60" stroke="#000" stroke-width="2.0" />
<line x1="561.80" y1="280.15" x2="567.80" y2="280.15" stroke="#000" stroke-width="2.0" />
<line x1="972.20" y1="280.15" x2="966.20" y2="280.15" stroke="#000" stroke-width="2.0" />
<line x1="561.80" y1="271.70" x2="567.80" y2="271.70" stroke="#000" stroke-width="2.0" />
<line x1="972.20" y1="271.70" x2="966.20" y2="271.70" stroke="#000" stroke-width="2.0" />
<line x1="561.80" y1="265.70" x2="567.80" y2="265.70" stroke="#000" stroke-width="2.0" />
<line x1="972.20" y1="265.70" x2="966.20" y2="265.70" stroke="#000" stroke-width="2.0" />
<line x1="561.80" y1="261.05" x2="567.80" y2="261.05" stroke="#000" stroke-width="2.0" />
<line x1="972.20" y1="261.05" x2="966.20" y2="261.05" stroke="#000" stroke-width="2.0" />
<line x1="561.80" y1="257.25" x2="567.80" y2="257.25" stroke="#000" stroke-width="2.0" />
<line x1="972.20" y1="257.25" x2="966.20" y2="257.25" stroke="#000" stroke-width="2.0" />
<line x1="561.80" y1="254.04" x2="567.80" y2="254.04" stroke="#000" stroke-width="2.0" />
<line x1="972.20" y1="254.04" x2="966.20" y2="254.04" stroke="#000" stroke-width="2.0" />
<line x1="561.80" y1="251.25" x2="567.80" y2="251.25" stroke="#000" stroke-width="2.0" />
<line x1="972.20" y1="251.25" x2="966.20" y2="251.25" stroke="#000" stroke-width="2.0" />
<line x1="561.80" y1="248.80" x2="567.80" y2="248.80" stroke="#000" stroke-width="2.0" />
<line x1="972.20" y1="248.80" x2="966.20" y2="248.80" stroke="#000" stroke-width="2.0" />
<line x1="561.80" y1="246.60" x2="573.30" y2="246.60" stroke="#000" stroke-width="2.0" />
<line x1="972.20" y1="246.60" x2="960.70" y2="246.60" stroke="#000" stroke-width="2.0" />
<line x1="561.80" y1="232.15" x2="567.80" y2="232.15" stroke="#000" stroke-width="2.0" />
<line x1="972.20" y1="232.15" x2="966.20" y2="232.15" stroke="#000" stroke-width="2.0" />
<line x1="561.80" y1="223.70" x2="567.80" y2="223.70" stroke="#000" stroke-width="2.0" />
<line x1="972.20" y1="223.70" x2="966.20" y2="223.70" stroke="#000" stroke-width="2.0" />
<line x1="561.80" y1="217.70" x2="567.80" y2="217.70" stroke="#000" stroke-width="2.0" />
<line x1="972.20" y1="217.70" x2="966.20" y2="217.70" stroke="#000" stroke-width="2.0" />
<line x1="561.80" y1="213.05" x2="567.80" y2="213.05" stroke="#000" stroke-width="2.0" />
<line x1="972.20" y1="213.05" x2="966.20" y2="213.05" stroke="#000" stroke-width="2.0" />
<line x1="561.80" y1="209.25" x2="567.80" y2="209.25" stroke="#000" stroke-width="2.0" />
<line x1="972.20" y1="209.25" x2="966.20" y2="209.25" stroke="#000" stroke-width="2.0" />
<line x1="561.80" y1="206.04" x2="567.80" y2="206.04" stroke="#000" stroke-width="2.0" />
<line x1="972.20" y1="206.04" x2="966.20" y2="206.04" stroke="#000" stroke-width="2.0" />
<line x1="561.80" y1="203.25" x2="567.80" y2="203.25" stroke="#000" stroke-width="2.0" />
<line x1="972.20" y1="203.25" x2="966.20" y2="203.25" stroke="#000" stroke-width="2.0" />
<line x1="561.80" y1="200.80" x2="567.80" y2="200.80" stroke="#000" stroke-width="2.0" />
<line x1="972.20" y1="200.80" x2="966.20" y2="200.80" stroke="#000" stroke-width="2.0" />
<line x1="561.80" y1="198.60" x2="573.30" y2="198.60" stroke="#000" stroke-width="2.0" />
<line x1="972.20" y1="198.60" x2="960.70" y2="198.60" stroke="#000" stroke-width="2.0" />
<line x1="561.80" y1="184.15" x2="567.80" y2="184.15" stroke="#000" stroke-width="2.0" />
<line x1="972.20" y1="184.15" x2="966.20" y2="184.15" stroke="#000" stroke-width="2.0" />
<line x1="561.80" y1="175.70" x2="567.80" y2="175.70" stroke="#000" stroke-width="2.0" />
<line x1="972.20" y1="175.70" x2="966.20" y2="175.70" stroke="#000" stroke-width="2.0" />
<line x1="561.80" y1="169.70" x2="567.80" y2="169.70" stroke="#000" stroke-width="2.0" />
<line x1="972.20" y1="169.70" x2="966.20" y2="169.70" stroke="#000" stroke-width="2.0" />
<line x1="561.80" y1="165.05" x2="567.80" y2="165.05" stroke="#000" stroke-width="2.0" />
<line x1="972.20" y1="165.05" x2="966.20" y2="165.05" stroke="#000" stroke-width="2.0" />
<line x1="561.80" y1="161.25" x2="567.80" y2="161.25" stroke="#000" stroke-width="2.0" />
<line x1="972.20" y1="161.25" x2="966.20" y2="161.25" stroke="#000" stroke-width="2.0" />
<line x1="561.80" y1="158.04" x2="567.80" y2="158.04" stroke="#000" stroke-width="2.0" />
<line x1="972.20" y1="158.04" x2="966.20" y2="158.04" stroke="#000" stroke-width="2.0" />
<line x1="561.80" y1="155.25" x2="567.80" y2="155.25" stroke="#000" stroke-width="2.0" />
<line x1="972.20" y1="155.25" x2="966.20" y2="155.25" stroke="#000" stroke-width="2.0" />
<line x1="561.80" y1="152.80" x2="567.80" y2="152.80" stroke="#000" stroke-width="2.0" />
<line x1="972.20" y1="152.80" x2="966.20" y2="152.80" stroke="#000" stroke-width="2.0" />
<line x1="561.80" y1="150.60" x2="573.30" y2="150.60" stroke="#000" stroke-width="2.0" />
<line x1="972.20" y1="150.60" x2="960.70" y2="150.60" stroke="#000" stroke-width="2.0" />
<line x1="561.80" y1="136.15" x2="567.80" y2="136.15" stroke="#000" stroke-width="2.0" />
<line x1="972.20" y1="136.15" x2="966.20" y2="136.15" stroke="#000" stroke-width="2.0" />
<line x1="561.80" y1="127.70" x2="567.80" y2="127.70" stroke="#000" stroke-width="2.0" />
<line x1="972.20" y1="127.70" x2="966.20" y2="127.70" stroke="#000" stroke-width="2.0" />
<line x1="561.80" y1="121.70" x2="567.80" y2="121.70" stroke="#000" stroke-width="2.0" />
<line x1="972.20" y1="121.70" x2="966.20" y2="121.70" stroke="#000" stroke-width="2.0" />
<line x1="561.80" y1="117.05" x2="567.80" y2="117.05" stroke="#000" stroke-width="2.0" />
<line x1="972.20" y1="117.05" x2="966.20" y2="117.05" stroke="#000" stroke-width="2.0" />
<line x1="561.80" y1="113.25" x2="567.80" y2="113.25" stroke="#000" stroke-width="2.0" />
<line x1="972.20" y1="113.25" x2="966.20" y2="113.25" stroke="#000" stroke-width="2.0" />
<line x1="561.80" y1="110.04" x2="567.80" y2="110.04" stroke="#000" stroke-width="2.0" />
<line x1="972.20" y1="110.04" x2="966.20" y2="110.04" stroke="#000" stroke-width="2.0" />
<line x1="561.80" y1="107.25" x2="567.80" y2="107.25" stroke="#000" stroke-width="2.0" />
<line x1="972.20" y1="107.25" x2="966.20" y2="107.25" stroke="#000" stroke-width="2.0" />
<line x1="561.80" y1="104.80" x2="567.80" y2="104.80" stroke="#000" stroke-width="2.0" />
<line x1="972.20" y1="104.80" x2="966.20" y2="104.80" stroke="#000" stroke-width="2.0" />
<line x1="561.80" y1="102.60" x2="573.30" y2="102.60" stroke="#000" stroke-width="2.0" />
<line x1="972.20" y1="102.60" x2="960.70" y2="102.60" stroke="#000" stroke-width="2.0" />
<line x1="561.80" y1="88.15" x2="567.80" y2="88.15" stroke="#000" stroke-width="2.0" />
<line x1="972.20" y1="88.15" x2="966.20" y2="88.15" stroke="#000" stroke-width="2.0" />
<line x1="561.80" y1="79.70" x2="567.80" y2="79.70" stroke="#000" stroke-width="2.0" />
<line x1="972.20" y1="79.70" x2="966.20" y2="79.70" stroke="#000" stroke-width="2.0" />
<line x1="561.80" y1="73.70" x2="567.80" y2="73.70" stroke="#000" stroke-width="2.0" />
<line x1="972.20" y1="73.70" x2="966.20" y2="73.70" stroke="#000" stroke-width="2.0" />
<line x1="561.80" y1="69.05" x2="567.80" y2="69.05" stroke="#000" stroke-width="2.0" />
<line x1="972.20" y1="69.05" x2="966.20" y2="69.05" stroke="#000" stroke-width="2.0" />
<line x1="561.80" y1="65.25" x2="567.80" y2="65.25" stroke="#000" stroke-width="2.0" />
<line x1="972.20" y1="65.25" x2="966.20" y2="65.25" stroke="#000" stroke-width="2.0" />
<line x1="561.80" y1="62.04" x2="567.80" y2="62.04" stroke="#000" stroke-width="2.0" />
<line x1="972.20" y1="62.04" x2="966.20" y2="62.04" stroke="#000" stroke-width="2.0" />
<line x1="561.80" y1="59.25" x2="567.80" y2="59.25" stroke="#000" stroke-width="2.0" />
<line x1="972.20" y1="59.25" x2="966.20" y2="59.25" stroke="#000" stroke-width="2.0" />
<line x1="561.80" y1="56.80" x2="567.80" y2="56.80" stroke="#000" stroke-width="2.0" />
<line x1="972.20" y1="56.80" x2="966.20" y2="56.80" stroke="#000" stroke-width="2.0" />
<line x1="561.80" y1="54.60" x2="573.30" y2="54.60" stroke="#000" stroke-width="2.0" />
<line x1="972.20" y1="54.60" x2="960.70" y2="54.60" stroke="#000" stroke-width="2.0" />
<line x1="561.80" y1="40.15" x2="567.80" y2="40.15" stroke="#000" stroke-width="2.0" />
<line x1="972.20" y1="40.15" x2="966.20" y2="40.15" stroke="#000" stroke-width="2.0" />
<line x1="561.80" y1="31.70" x2="567.80" y2="31.70" stroke="#000" stroke-width="2.0" />
<line x1="972.20" y1="31.70" x2="966.20" y2="31.70" stroke="#000" stroke-width="2.0" />
<line x1="561.80" y1="25.70" x2="567.80" y2="25.70" stroke="#000" stroke-width="2.0" />
<line x1="972.20" y1="25.70" x2="966.20" y2="25.70" stroke="#000" stroke-width="2.0" />
<line x1="561.80" y1="21.05" x2="567.80" y2="21.05" stroke="#000" stroke-width="2.0" />
<line x1="972.20" y1="21.05" x2="966.20" y2="21.05" stroke="#000" stroke-width="2.0" />
<line x1="561.80" y1="17.25" x2="567.80" y2="17.25" stroke="#000" stroke-width="2.0" />
<line x1="972.20" y1="17.25" x2="966.20" y2="17.25" stroke="#000" stroke-width="2.0" />
<rect x="561.8" y="705.2" width="410.20000000000005" height="328.39999999999986" fill="none" stroke="#000" stroke-width="2.6"/>
<line x1="567.21" y1="705.20" x2="567.21" y2="711.20" stroke="#000" stroke-width="2.0" />
<line x1="567.21" y1="1033.60" x2="567.21" y2="1027.60" stroke="#000" stroke-width="2.0" />
<line x1="600.21" y1="705.20" x2="600.21" y2="711.20" stroke="#000" stroke-width="2.0" />
<line x1="600.21" y1="1033.60" x2="600.21" y2="1027.60" stroke="#000" stroke-width="2.0" />
<line x1="623.63" y1="705.20" x2="623.63" y2="711.20" stroke="#000" stroke-width="2.0" />
<line x1="623.63" y1="1033.60" x2="623.63" y2="1027.60" stroke="#000" stroke-width="2.0" />
<line x1="641.79" y1="705.20" x2="641.79" y2="711.20" stroke="#000" stroke-width="2.0" />
<line x1="641.79" y1="1033.60" x2="641.79" y2="1027.60" stroke="#000" stroke-width="2.0" />
<line x1="656.63" y1="705.20" x2="656.63" y2="711.20" stroke="#000" stroke-width="2.0" />
<line x1="656.63" y1="1033.60" x2="656.63" y2="1027.60" stroke="#000" stroke-width="2.0" />
<line x1="669.17" y1="705.20" x2="669.17" y2="711.20" stroke="#000" stroke-width="2.0" />
<line x1="669.17" y1="1033.60" x2="669.17" y2="1027.60" stroke="#000" stroke-width="2.0" />
<line x1="680.04" y1="705.20" x2="680.04" y2="711.20" stroke="#000" stroke-width="2.0" />
<line x1="680.04" y1="1033.60" x2="680.04" y2="1027.60" stroke="#000" stroke-width="2.0" />
<line x1="689.63" y1="705.20" x2="689.63" y2="711.20" stroke="#000" stroke-width="2.0" />
<line x1="689.63" y1="1033.60" x2="689.63" y2="1027.60" stroke="#000" stroke-width="2.0" />
<line x1="698.20" y1="705.20" x2="698.20" y2="716.20" stroke="#000" stroke-width="2.0" />
<line x1="698.20" y1="1033.60" x2="698.20" y2="1022.60" stroke="#000" stroke-width="2.0" />
<line x1="754.61" y1="705.20" x2="754.61" y2="711.20" stroke="#000" stroke-width="2.0" />
<line x1="754.61" y1="1033.60" x2="754.61" y2="1027.60" stroke="#000" stroke-width="2.0" />
<line x1="787.61" y1="705.20" x2="787.61" y2="711.20" stroke="#000" stroke-width="2.0" />
<line x1="787.61" y1="1033.60" x2="787.61" y2="1027.60" stroke="#000" stroke-width="2.0" />
<line x1="811.03" y1="705.20" x2="811.03" y2="711.20" stroke="#000" stroke-width="2.0" />
<line x1="811.03" y1="1033.60" x2="811.03" y2="1027.60" stroke="#000" stroke-width="2.0" />
<line x1="829.19" y1="705.20" x2="829.19" y2="711.20" stroke="#000" stroke-width="2.0" />
<line x1="829.19" y1="1033.60" x2="829.19" y2="1027.60" stroke="#000" stroke-width="2.0" />
<line x1="844.03" y1="705.20" x2="844.03" y2="711.20" stroke="#000" stroke-width="2.0" />
<line x1="844.03" y1="1033.60" x2="844.03" y2="1027.60" stroke="#000" stroke-width="2.0" />
<line x1="856.57" y1="705.20" x2="856.57" y2="711.20" stroke="#000" stroke-width="2.0" />
<line x1="856.57" y1="1033.60" x2="856.57" y2="1027.60" stroke="#000" stroke-width="2.0" />
<line x1="867.44" y1="705.20" x2="867.44" y2="711.20" stroke="#000" stroke-width="2.0" />
<line x1="867.44" y1="1033.60" x2="867.44" y2="1027.60" stroke="#000" stroke-width="2.0" />
<line x1="877.03" y1="705.20" x2="877.03" y2="711.20" stroke="#000" stroke-width="2.0" />
<line x1="877.03" y1="1033.60" x2="877.03" y2="1027.60" stroke="#000" stroke-width="2.0" />
<line x1="885.60" y1="705.20" x2="885.60" y2="716.20" stroke="#000" stroke-width="2.0" />
<line x1="885.60" y1="1033.60" x2="885.60" y2="1022.60" stroke="#000" stroke-width="2.0" />
<line x1="942.01" y1="705.20" x2="942.01" y2="711.20" stroke="#000" stroke-width="2.0" />
<line x1="942.01" y1="1033.60" x2="942.01" y2="1027.60" stroke="#000" stroke-width="2.0" />
<line x1="561.80" y1="1025.43" x2="567.80" y2="1025.43" stroke="#000" stroke-width="2.0" />
<line x1="972.00" y1="1025.43" x2="966.00" y2="1025.43" stroke="#000" stroke-width="2.0" />
<line x1="561.80" y1="1013.81" x2="567.80" y2="1013.81" stroke="#000" stroke-width="2.0" />
<line x1="972.00" y1="1013.81" x2="966.00" y2="1013.81" stroke="#000" stroke-width="2.0" />
<line x1="561.80" y1="1004.80" x2="567.80" y2="1004.80" stroke="#000" stroke-width="2.0" />
<line x1="972.00" y1="1004.80" x2="966.00" y2="1004.80" stroke="#000" stroke-width="2.0" />
<line x1="561.80" y1="997.43" x2="567.80" y2="997.43" stroke="#000" stroke-width="2.0" />
<line x1="972.00" y1="997.43" x2="966.00" y2="997.43" stroke="#000" stroke-width="2.0" />
<line x1="561.80" y1="991.21" x2="567.80" y2="991.21" stroke="#000" stroke-width="2.0" />
<line x1="972.00" y1="991.21" x2="966.00" y2="991.21" stroke="#000" stroke-width="2.0" />
<line x1="561.80" y1="985.81" x2="567.80" y2="985.81" stroke="#000" stroke-width="2.0" />
<line x1="972.00" y1="985.81" x2="966.00" y2="985.81" stroke="#000" stroke-width="2.0" />
<line x1="561.80" y1="981.06" x2="567.80" y2="981.06" stroke="#000" stroke-width="2.0" />
<line x1="972.00" y1="981.06" x2="966.00" y2="981.06" stroke="#000" stroke-width="2.0" />
<line x1="561.80" y1="976.80" x2="573.30" y2="976.80" stroke="#000" stroke-width="2.0" />
<line x1="972.00" y1="976.80" x2="960.50" y2="976.80" stroke="#000" stroke-width="2.0" />
<line x1="561.80" y1="948.80" x2="567.80" y2="948.80" stroke="#000" stroke-width="2.0" />
<line x1="972.00" y1="948.80" x2="966.00" y2="948.80" stroke="#000" stroke-width="2.0" />
<line x1="561.80" y1="932.43" x2="567.80" y2="932.43" stroke="#000" stroke-width="2.0" />
<line x1="972.00" y1="932.43" x2="966.00" y2="932.43" stroke="#000" stroke-width="2.0" />
<line x1="561.80" y1="920.81" x2="567.80" y2="920.81" stroke="#000" stroke-width="2.0" />
<line x1="972.00" y1="920.81" x2="966.00" y2="920.81" stroke="#000" stroke-width="2.0" />
<line x1="561.80" y1="911.80" x2="567.80" y2="911.80" stroke="#000" stroke-width="2.0" />
<line x1="972.00" y1="911.80" x2="966.00" y2="911.80" stroke="#000" stroke-width="2.0" />
<line x1="561.80" y1="904.43" x2="567.80" y2="904.43" stroke="#000" stroke-width="2.0" />
<line x1="972.00" y1="904.43" x2="966.00" y2="904.43" stroke="#000" stroke-width="2.0" />
<line x1="561.80" y1="898.21" x2="567.80" y2="898.21" stroke="#000" stroke-width="2.0" />
<line x1="972.00" y1="898.21" x2="966.00" y2="898.21" stroke="#000" stroke-width="2.0" />
<line x1="561.80" y1="892.81" x2="567.80" y2="892.81" stroke="#000" stroke-width="2.0" />
<line x1="972.00" y1="892.81" x2="966.00" y2="892.81" stroke="#000" stroke-width="2.0" />
<line x1="561.80" y1="888.06" x2="567.80" y2="888.06" stroke="#000" stroke-width="2.0" />
<line x1="972.00" y1="888.06" x2="966.00" y2="888.06" stroke="#000" stroke-width="2.0" />
<line x1="561.80" y1="883.80" x2="573.30" y2="883.80" stroke="#000" stroke-width="2.0" />
<line x1="972.00" y1="883.80" x2="960.50" y2="883.80" stroke="#000" stroke-width="2.0" />
<line x1="561.80" y1="855.80" x2="567.80" y2="855.80" stroke="#000" stroke-width="2.0" />
<line x1="972.00" y1="855.80" x2="966.00" y2="855.80" stroke="#000" stroke-width="2.0" />
<line x1="561.80" y1="839.43" x2="567.80" y2="839.43" stroke="#000" stroke-width="2.0" />
<line x1="972.00" y1="839.43" x2="966.00" y2="839.43" stroke="#000" stroke-width="2.0" />
<line x1="561.80" y1="827.81" x2="567.80" y2="827.81" stroke="#000" stroke-width="2.0" />
<line x1="972.00" y1="827.81" x2="966.00" y2="827.81" stroke="#000" stroke-width="2.0" />
<line x1="561.80" y1="818.80" x2="567.80" y2="818.80" stroke="#000" stroke-width="2.0" />
<line x1="972.00" y1="818.80" x2="966.00" y2="818.80" stroke="#000" stroke-width="2.0" />
<line x1="561.80" y1="811.43" x2="567.80" y2="811.43" stroke="#000" stroke-width="2.0" />
<line x1="972.00" y1="811.43" x2="966.00" y2="811.43" stroke="#000" stroke-width="2.0" />
<line x1="561.80" y1="805.21" x2="567.80" y2="805.21" stroke="#000" stroke-width="2.0" />
<line x1="972.00" y1="805.21" x2="966.00" y2="805.21" stroke="#000" stroke-width="2.0" />
<line x1="561.80" y1="799.81" x2="567.80" y2="799.81" stroke="#000" stroke-width="2.0" />
<line x1="972.00" y1="799.81" x2="966.00" y2="799.81" stroke="#000" stroke-width="2.0" />
<line x1="561.80" y1="795.06" x2="567.80" y2="795.06" stroke="#000" stroke-width="2.0" />
<line x1="972.00" y1="795.06" x2="966.00" y2="795.06" stroke="#000" stroke-width="2.0" />
<line x1="561.80" y1="790.80" x2="573.30" y2="790.80" stroke="#000" stroke-width="2.0" />
<line x1="972.00" y1="790.80" x2="960.50" y2="790.80" stroke="#000" stroke-width="2.0" />
<line x1="561.80" y1="762.80" x2="567.80" y2="762.80" stroke="#000" stroke-width="2.0" />
<line x1="972.00" y1="762.80" x2="966.00" y2="762.80" stroke="#000" stroke-width="2.0" />
<line x1="561.80" y1="746.43" x2="567.80" y2="746.43" stroke="#000" stroke-width="2.0" />
<line x1="972.00" y1="746.43" x2="966.00" y2="746.43" stroke="#000" stroke-width="2.0" />
<line x1="561.80" y1="734.81" x2="567.80" y2="734.81" stroke="#000" stroke-width="2.0" />
<line x1="972.00" y1="734.81" x2="966.00" y2="734.81" stroke="#000" stroke-width="2.0" />
<line x1="561.80" y1="725.80" x2="567.80" y2="725.80" stroke="#000" stroke-width="2.0" />
<line x1="972.00" y1="725.80" x2="966.00" y2="725.80" stroke="#000" stroke-width="2.0" />
<line x1="561.80" y1="718.43" x2="567.80" y2="718.43" stroke="#000" stroke-width="2.0" />
<line x1="972.00" y1="718.43" x2="966.00" y2="718.43" stroke="#000" stroke-width="2.0" />
<line x1="561.80" y1="712.21" x2="567.80" y2="712.21" stroke="#000" stroke-width="2.0" />
<line x1="972.00" y1="712.21" x2="966.00" y2="712.21" stroke="#000" stroke-width="2.0" />
<line x1="561.80" y1="706.81" x2="567.80" y2="706.81" stroke="#000" stroke-width="2.0" />
<line x1="972.00" y1="706.81" x2="966.00" y2="706.81" stroke="#000" stroke-width="2.0" />
<text transform="translate(503.80,65.20) scale(1,1.065)" font-size="30.2" font-weight="bold" text-anchor="start" stroke="#000" stroke-width="0.3">10<tspan dy="-11.83" font-size="21.2">8</tspan></text>
<text transform="translate(503.80,161.20) scale(1,1.065)" font-size="30.2" font-weight="bold" text-anchor="start" stroke="#000" stroke-width="0.3">10<tspan dy="-11.83" font-size="21.2">6</tspan></text>
<text transform="translate(503.80,257.20) scale(1,1.065)" font-size="30.2" font-weight="bold" text-anchor="start" stroke="#000" stroke-width="0.3">10<tspan dy="-11.83" font-size="21.2">4</tspan></text>
<text transform="translate(503.80,801.40) scale(1,1.065)" font-size="30.2" font-weight="bold" text-anchor="start" stroke="#000" stroke-width="0.3">10<tspan dy="-11.83" font-size="21.2">5</tspan></text>
<text transform="translate(503.80,894.40) scale(1,1.065)" font-size="30.2" font-weight="bold" text-anchor="start" stroke="#000" stroke-width="0.3">10<tspan dy="-11.83" font-size="21.2">4</tspan></text>
<text transform="translate(503.80,987.40) scale(1,1.065)" font-size="30.2" font-weight="bold" text-anchor="start" stroke="#000" stroke-width="0.3">10<tspan dy="-11.83" font-size="21.2">3</tspan></text>
<text transform="translate(697.00,357.30) scale(1,1.065)" font-size="30.2" font-weight="bold" text-anchor="middle" stroke="#000" stroke-width="0.3">10</text>
<text transform="translate(881.60,357.30) scale(1,1.065)" font-size="30.2" font-weight="bold" text-anchor="middle" stroke="#000" stroke-width="0.3">100</text>
<text transform="translate(698.20,1070.60) scale(1,1.065)" font-size="30.2" font-weight="bold" text-anchor="middle" stroke="#000" stroke-width="0.3">10</text>
<text transform="translate(885.60,1070.60) scale(1,1.065)" font-size="30.2" font-weight="bold" text-anchor="middle" stroke="#000" stroke-width="0.3">100</text>
<line x1="863.60" y1="297.10" x2="823.78" y2="333.87" stroke="#000" stroke-width="3.7" />
<polygon points="801.00,354.90 819.15,327.39 829.87,339.00" fill="#000"/>
<line x1="855.20" y1="1020.50" x2="810.99" y2="1070.42" stroke="#000" stroke-width="4.0" />
<polygon points="790.10,1094.00 805.73,1064.43 817.56,1074.91" fill="#000"/>
<rect x="115.2" y="1.0" width="874.5999999999999" height="1380.0" fill="none" stroke="#000" stroke-width="2.45"/>
<line x1="115.20" y1="691.20" x2="989.80" y2="691.20" stroke="#000" stroke-width="2.45" />
<line x1="167.81" y1="1.00" x2="167.81" y2="7.00" stroke="#000" stroke-width="2.2" />
<line x1="167.81" y1="685.20" x2="167.81" y2="697.20" stroke="#000" stroke-width="2.2" />
<line x1="167.81" y1="1381.00" x2="167.81" y2="1375.00" stroke="#000" stroke-width="2.2" />
<line x1="215.21" y1="1.00" x2="215.21" y2="7.00" stroke="#000" stroke-width="2.2" />
<line x1="215.21" y1="685.20" x2="215.21" y2="697.20" stroke="#000" stroke-width="2.2" />
<line x1="215.21" y1="1381.00" x2="215.21" y2="1375.00" stroke="#000" stroke-width="2.2" />
<line x1="258.48" y1="1.00" x2="258.48" y2="7.00" stroke="#000" stroke-width="2.2" />
<line x1="258.48" y1="685.20" x2="258.48" y2="697.20" stroke="#000" stroke-width="2.2" />
<line x1="258.48" y1="1381.00" x2="258.48" y2="1375.00" stroke="#000" stroke-width="2.2" />
<line x1="298.28" y1="1.00" x2="298.28" y2="7.00" stroke="#000" stroke-width="2.2" />
<line x1="298.28" y1="685.20" x2="298.28" y2="697.20" stroke="#000" stroke-width="2.2" />
<line x1="298.28" y1="1381.00" x2="298.28" y2="1375.00" stroke="#000" stroke-width="2.2" />
<line x1="335.13" y1="1.00" x2="335.13" y2="7.00" stroke="#000" stroke-width="2.2" />
<line x1="335.13" y1="685.20" x2="335.13" y2="697.20" stroke="#000" stroke-width="2.2" />
<line x1="335.13" y1="1381.00" x2="335.13" y2="1375.00" stroke="#000" stroke-width="2.2" />
<line x1="369.44" y1="1.00" x2="369.44" y2="7.00" stroke="#000" stroke-width="2.2" />
<line x1="369.44" y1="685.20" x2="369.44" y2="697.20" stroke="#000" stroke-width="2.2" />
<line x1="369.44" y1="1381.00" x2="369.44" y2="1375.00" stroke="#000" stroke-width="2.2" />
<line x1="401.53" y1="1.00" x2="401.53" y2="7.00" stroke="#000" stroke-width="2.2" />
<line x1="401.53" y1="685.20" x2="401.53" y2="697.20" stroke="#000" stroke-width="2.2" />
<line x1="401.53" y1="1381.00" x2="401.53" y2="1375.00" stroke="#000" stroke-width="2.2" />
<line x1="431.68" y1="1.00" x2="431.68" y2="7.00" stroke="#000" stroke-width="2.2" />
<line x1="431.68" y1="685.20" x2="431.68" y2="697.20" stroke="#000" stroke-width="2.2" />
<line x1="431.68" y1="1381.00" x2="431.68" y2="1375.00" stroke="#000" stroke-width="2.2" />
<line x1="460.10" y1="1.00" x2="460.10" y2="12.70" stroke="#000" stroke-width="2.2" />
<line x1="460.10" y1="679.50" x2="460.10" y2="702.90" stroke="#000" stroke-width="2.2" />
<line x1="460.10" y1="1381.00" x2="460.10" y2="1369.30" stroke="#000" stroke-width="2.2" />
<line x1="486.99" y1="1.00" x2="486.99" y2="7.00" stroke="#000" stroke-width="2.2" />
<line x1="486.99" y1="685.20" x2="486.99" y2="697.20" stroke="#000" stroke-width="2.2" />
<line x1="486.99" y1="1381.00" x2="486.99" y2="1375.00" stroke="#000" stroke-width="2.2" />
<line x1="512.49" y1="1.00" x2="512.49" y2="7.00" stroke="#000" stroke-width="2.2" />
<line x1="512.49" y1="685.20" x2="512.49" y2="697.20" stroke="#000" stroke-width="2.2" />
<line x1="512.49" y1="1381.00" x2="512.49" y2="1375.00" stroke="#000" stroke-width="2.2" />
<line x1="536.75" y1="1.00" x2="536.75" y2="7.00" stroke="#000" stroke-width="2.2" />
<line x1="536.75" y1="685.20" x2="536.75" y2="697.20" stroke="#000" stroke-width="2.2" />
<line x1="536.75" y1="1381.00" x2="536.75" y2="1375.00" stroke="#000" stroke-width="2.2" />
<line x1="559.89" y1="1.00" x2="559.89" y2="7.00" stroke="#000" stroke-width="2.2" />
<line x1="559.89" y1="685.20" x2="559.89" y2="697.20" stroke="#000" stroke-width="2.2" />
<line x1="559.89" y1="1381.00" x2="559.89" y2="1375.00" stroke="#000" stroke-width="2.2" />
<line x1="581.99" y1="1.00" x2="581.99" y2="7.00" stroke="#000" stroke-width="2.2" />
<line x1="581.99" y1="685.20" x2="581.99" y2="697.20" stroke="#000" stroke-width="2.2" />
<line x1="581.99" y1="1381.00" x2="581.99" y2="1375.00" stroke="#000" stroke-width="2.2" />
<line x1="603.15" y1="1.00" x2="603.15" y2="7.00" stroke="#000" stroke-width="2.2" />
<line x1="603.15" y1="685.20" x2="603.15" y2="697.20" stroke="#000" stroke-width="2.2" />
<line x1="603.15" y1="1381.00" x2="603.15" y2="1375.00" stroke="#000" stroke-width="2.2" />
<line x1="623.45" y1="1.00" x2="623.45" y2="7.00" stroke="#000" stroke-width="2.2" />
<line x1="623.45" y1="685.20" x2="623.45" y2="697.20" stroke="#000" stroke-width="2.2" />
<line x1="623.45" y1="1381.00" x2="623.45" y2="1375.00" stroke="#000" stroke-width="2.2" />
<line x1="642.96" y1="1.00" x2="642.96" y2="7.00" stroke="#000" stroke-width="2.2" />
<line x1="642.96" y1="685.20" x2="642.96" y2="697.20" stroke="#000" stroke-width="2.2" />
<line x1="642.96" y1="1381.00" x2="642.96" y2="1375.00" stroke="#000" stroke-width="2.2" />
<line x1="661.72" y1="1.00" x2="661.72" y2="12.70" stroke="#000" stroke-width="2.2" />
<line x1="661.72" y1="679.50" x2="661.72" y2="702.90" stroke="#000" stroke-width="2.2" />
<line x1="661.72" y1="1381.00" x2="661.72" y2="1369.30" stroke="#000" stroke-width="2.2" />
<line x1="679.81" y1="1.00" x2="679.81" y2="7.00" stroke="#000" stroke-width="2.2" />
<line x1="679.81" y1="685.20" x2="679.81" y2="697.20" stroke="#000" stroke-width="2.2" />
<line x1="679.81" y1="1381.00" x2="679.81" y2="1375.00" stroke="#000" stroke-width="2.2" />
<line x1="697.26" y1="1.00" x2="697.26" y2="7.00" stroke="#000" stroke-width="2.2" />
<line x1="697.26" y1="685.20" x2="697.26" y2="697.20" stroke="#000" stroke-width="2.2" />
<line x1="697.26" y1="1381.00" x2="697.26" y2="1375.00" stroke="#000" stroke-width="2.2" />
<line x1="714.12" y1="1.00" x2="714.12" y2="7.00" stroke="#000" stroke-width="2.2" />
<line x1="714.12" y1="685.20" x2="714.12" y2="697.20" stroke="#000" stroke-width="2.2" />
<line x1="714.12" y1="1381.00" x2="714.12" y2="1375.00" stroke="#000" stroke-width="2.2" />
<line x1="730.42" y1="1.00" x2="730.42" y2="7.00" stroke="#000" stroke-width="2.2" />
<line x1="730.42" y1="685.20" x2="730.42" y2="697.20" stroke="#000" stroke-width="2.2" />
<line x1="730.42" y1="1381.00" x2="730.42" y2="1375.00" stroke="#000" stroke-width="2.2" />
<line x1="746.21" y1="1.00" x2="746.21" y2="7.00" stroke="#000" stroke-width="2.2" />
<line x1="746.21" y1="685.20" x2="746.21" y2="697.20" stroke="#000" stroke-width="2.2" />
<line x1="746.21" y1="1381.00" x2="746.21" y2="1375.00" stroke="#000" stroke-width="2.2" />
<line x1="761.51" y1="1.00" x2="761.51" y2="7.00" stroke="#000" stroke-width="2.2" />
<line x1="761.51" y1="685.20" x2="761.51" y2="697.20" stroke="#000" stroke-width="2.2" />
<line x1="761.51" y1="1381.00" x2="761.51" y2="1375.00" stroke="#000" stroke-width="2.2" />
<line x1="776.36" y1="1.00" x2="776.36" y2="7.00" stroke="#000" stroke-width="2.2" />
<line x1="776.36" y1="685.20" x2="776.36" y2="697.20" stroke="#000" stroke-width="2.2" />
<line x1="776.36" y1="1381.00" x2="776.36" y2="1375.00" stroke="#000" stroke-width="2.2" />
<line x1="790.77" y1="1.00" x2="790.77" y2="7.00" stroke="#000" stroke-width="2.2" />
<line x1="790.77" y1="685.20" x2="790.77" y2="697.20" stroke="#000" stroke-width="2.2" />
<line x1="790.77" y1="1381.00" x2="790.77" y2="1375.00" stroke="#000" stroke-width="2.2" />
<line x1="804.78" y1="1.00" x2="804.78" y2="12.70" stroke="#000" stroke-width="2.2" />
<line x1="804.78" y1="679.50" x2="804.78" y2="702.90" stroke="#000" stroke-width="2.2" />
<line x1="804.78" y1="1381.00" x2="804.78" y2="1369.30" stroke="#000" stroke-width="2.2" />
<line x1="818.40" y1="1.00" x2="818.40" y2="7.00" stroke="#000" stroke-width="2.2" />
<line x1="818.40" y1="685.20" x2="818.40" y2="697.20" stroke="#000" stroke-width="2.2" />
<line x1="818.40" y1="1381.00" x2="818.40" y2="1375.00" stroke="#000" stroke-width="2.2" />
<line x1="831.67" y1="1.00" x2="831.67" y2="7.00" stroke="#000" stroke-width="2.2" />
<line x1="831.67" y1="685.20" x2="831.67" y2="697.20" stroke="#000" stroke-width="2.2" />
<line x1="831.67" y1="1381.00" x2="831.67" y2="1375.00" stroke="#000" stroke-width="2.2" />
<line x1="844.58" y1="1.00" x2="844.58" y2="7.00" stroke="#000" stroke-width="2.2" />
<line x1="844.58" y1="685.20" x2="844.58" y2="697.20" stroke="#000" stroke-width="2.2" />
<line x1="844.58" y1="1381.00" x2="844.58" y2="1375.00" stroke="#000" stroke-width="2.2" />
<line x1="857.17" y1="1.00" x2="857.17" y2="7.00" stroke="#000" stroke-width="2.2" />
<line x1="857.17" y1="685.20" x2="857.17" y2="697.20" stroke="#000" stroke-width="2.2" />
<line x1="857.17" y1="1381.00" x2="857.17" y2="1375.00" stroke="#000" stroke-width="2.2" />
<line x1="869.45" y1="1.00" x2="869.45" y2="7.00" stroke="#000" stroke-width="2.2" />
<line x1="869.45" y1="685.20" x2="869.45" y2="697.20" stroke="#000" stroke-width="2.2" />
<line x1="869.45" y1="1381.00" x2="869.45" y2="1375.00" stroke="#000" stroke-width="2.2" />
<line x1="881.43" y1="1.00" x2="881.43" y2="7.00" stroke="#000" stroke-width="2.2" />
<line x1="881.43" y1="685.20" x2="881.43" y2="697.20" stroke="#000" stroke-width="2.2" />
<line x1="881.43" y1="1381.00" x2="881.43" y2="1375.00" stroke="#000" stroke-width="2.2" />
<line x1="893.13" y1="1.00" x2="893.13" y2="7.00" stroke="#000" stroke-width="2.2" />
<line x1="893.13" y1="685.20" x2="893.13" y2="697.20" stroke="#000" stroke-width="2.2" />
<line x1="893.13" y1="1381.00" x2="893.13" y2="1375.00" stroke="#000" stroke-width="2.2" />
<line x1="904.57" y1="1.00" x2="904.57" y2="7.00" stroke="#000" stroke-width="2.2" />
<line x1="904.57" y1="685.20" x2="904.57" y2="697.20" stroke="#000" stroke-width="2.2" />
<line x1="904.57" y1="1381.00" x2="904.57" y2="1375.00" stroke="#000" stroke-width="2.2" />
<line x1="915.74" y1="1.00" x2="915.74" y2="12.70" stroke="#000" stroke-width="2.2" />
<line x1="915.74" y1="679.50" x2="915.74" y2="702.90" stroke="#000" stroke-width="2.2" />
<line x1="915.74" y1="1381.00" x2="915.74" y2="1369.30" stroke="#000" stroke-width="2.2" />
<line x1="926.67" y1="1.00" x2="926.67" y2="7.00" stroke="#000" stroke-width="2.2" />
<line x1="926.67" y1="685.20" x2="926.67" y2="697.20" stroke="#000" stroke-width="2.2" />
<line x1="926.67" y1="1381.00" x2="926.67" y2="1375.00" stroke="#000" stroke-width="2.2" />
<line x1="937.37" y1="1.00" x2="937.37" y2="7.00" stroke="#000" stroke-width="2.2" />
<line x1="937.37" y1="685.20" x2="937.37" y2="697.20" stroke="#000" stroke-width="2.2" />
<line x1="937.37" y1="1381.00" x2="937.37" y2="1375.00" stroke="#000" stroke-width="2.2" />
<line x1="947.83" y1="1.00" x2="947.83" y2="7.00" stroke="#000" stroke-width="2.2" />
<line x1="947.83" y1="685.20" x2="947.83" y2="697.20" stroke="#000" stroke-width="2.2" />
<line x1="947.83" y1="1381.00" x2="947.83" y2="1375.00" stroke="#000" stroke-width="2.2" />
<line x1="958.09" y1="1.00" x2="958.09" y2="7.00" stroke="#000" stroke-width="2.2" />
<line x1="958.09" y1="685.20" x2="958.09" y2="697.20" stroke="#000" stroke-width="2.2" />
<line x1="958.09" y1="1381.00" x2="958.09" y2="1375.00" stroke="#000" stroke-width="2.2" />
<line x1="968.13" y1="1.00" x2="968.13" y2="7.00" stroke="#000" stroke-width="2.2" />
<line x1="968.13" y1="685.20" x2="968.13" y2="697.20" stroke="#000" stroke-width="2.2" />
<line x1="968.13" y1="1381.00" x2="968.13" y2="1375.00" stroke="#000" stroke-width="2.2" />
<line x1="977.98" y1="1.00" x2="977.98" y2="7.00" stroke="#000" stroke-width="2.2" />
<line x1="977.98" y1="685.20" x2="977.98" y2="697.20" stroke="#000" stroke-width="2.2" />
<line x1="977.98" y1="1381.00" x2="977.98" y2="1375.00" stroke="#000" stroke-width="2.2" />
<line x1="987.64" y1="1.00" x2="987.64" y2="7.00" stroke="#000" stroke-width="2.2" />
<line x1="987.64" y1="685.20" x2="987.64" y2="697.20" stroke="#000" stroke-width="2.2" />
<line x1="987.64" y1="1381.00" x2="987.64" y2="1375.00" stroke="#000" stroke-width="2.2" />
<line x1="115.20" y1="670.98" x2="121.20" y2="670.98" stroke="#000" stroke-width="2.2" />
<line x1="989.80" y1="670.98" x2="983.80" y2="670.98" stroke="#000" stroke-width="2.2" />
<line x1="115.20" y1="651.01" x2="121.20" y2="651.01" stroke="#000" stroke-width="2.2" />
<line x1="989.80" y1="651.01" x2="983.80" y2="651.01" stroke="#000" stroke-width="2.2" />
<line x1="115.20" y1="634.70" x2="121.20" y2="634.70" stroke="#000" stroke-width="2.2" />
<line x1="989.80" y1="634.70" x2="983.80" y2="634.70" stroke="#000" stroke-width="2.2" />
<line x1="115.20" y1="620.91" x2="121.20" y2="620.91" stroke="#000" stroke-width="2.2" />
<line x1="989.80" y1="620.91" x2="983.80" y2="620.91" stroke="#000" stroke-width="2.2" />
<line x1="115.20" y1="608.96" x2="121.20" y2="608.96" stroke="#000" stroke-width="2.2" />
<line x1="989.80" y1="608.96" x2="983.80" y2="608.96" stroke="#000" stroke-width="2.2" />
<line x1="115.20" y1="598.43" x2="121.20" y2="598.43" stroke="#000" stroke-width="2.2" />
<line x1="989.80" y1="598.43" x2="983.80" y2="598.43" stroke="#000" stroke-width="2.2" />
<line x1="115.20" y1="589.00" x2="126.90" y2="589.00" stroke="#000" stroke-width="2.2" />
<line x1="989.80" y1="589.00" x2="978.10" y2="589.00" stroke="#000" stroke-width="2.2" />
<line x1="115.20" y1="526.99" x2="121.20" y2="526.99" stroke="#000" stroke-width="2.2" />
<line x1="989.80" y1="526.99" x2="983.80" y2="526.99" stroke="#000" stroke-width="2.2" />
<line x1="115.20" y1="490.71" x2="121.20" y2="490.71" stroke="#000" stroke-width="2.2" />
<line x1="989.80" y1="490.71" x2="983.80" y2="490.71" stroke="#000" stroke-width="2.2" />
<line x1="115.20" y1="464.98" x2="121.20" y2="464.98" stroke="#000" stroke-width="2.2" />
<line x1="989.80" y1="464.98" x2="983.80" y2="464.98" stroke="#000" stroke-width="2.2" />
<line x1="115.20" y1="445.01" x2="121.20" y2="445.01" stroke="#000" stroke-width="2.2" />
<line x1="989.80" y1="445.01" x2="983.80" y2="445.01" stroke="#000" stroke-width="2.2" />
<line x1="115.20" y1="428.70" x2="121.20" y2="428.70" stroke="#000" stroke-width="2.2" />
<line x1="989.80" y1="428.70" x2="983.80" y2="428.70" stroke="#000" stroke-width="2.2" />
<line x1="115.20" y1="414.91" x2="121.20" y2="414.91" stroke="#000" stroke-width="2.2" />
<line x1="989.80" y1="414.91" x2="983.80" y2="414.91" stroke="#000" stroke-width="2.2" />
<line x1="115.20" y1="402.96" x2="121.20" y2="402.96" stroke="#000" stroke-width="2.2" />
<line x1="989.80" y1="402.96" x2="983.80" y2="402.96" stroke="#000" stroke-width="2.2" />
<line x1="115.20" y1="392.43" x2="121.20" y2="392.43" stroke="#000" stroke-width="2.2" />
<line x1="989.80" y1="392.43" x2="983.80" y2="392.43" stroke="#000" stroke-width="2.2" />
<line x1="115.20" y1="383.00" x2="126.90" y2="383.00" stroke="#000" stroke-width="2.2" />
<line x1="989.80" y1="383.00" x2="978.10" y2="383.00" stroke="#000" stroke-width="2.2" />
<line x1="115.20" y1="320.99" x2="121.20" y2="320.99" stroke="#000" stroke-width="2.2" />
<line x1="989.80" y1="320.99" x2="983.80" y2="320.99" stroke="#000" stroke-width="2.2" />
<line x1="115.20" y1="284.71" x2="121.20" y2="284.71" stroke="#000" stroke-width="2.2" />
<line x1="989.80" y1="284.71" x2="983.80" y2="284.71" stroke="#000" stroke-width="2.2" />
<line x1="115.20" y1="258.98" x2="121.20" y2="258.98" stroke="#000" stroke-width="2.2" />
<line x1="989.80" y1="258.98" x2="983.80" y2="258.98" stroke="#000" stroke-width="2.2" />
<line x1="115.20" y1="239.01" x2="121.20" y2="239.01" stroke="#000" stroke-width="2.2" />
<line x1="989.80" y1="239.01" x2="983.80" y2="239.01" stroke="#000" stroke-width="2.2" />
<line x1="115.20" y1="222.70" x2="121.20" y2="222.70" stroke="#000" stroke-width="2.2" />
<line x1="989.80" y1="222.70" x2="983.80" y2="222.70" stroke="#000" stroke-width="2.2" />
<line x1="115.20" y1="208.91" x2="121.20" y2="208.91" stroke="#000" stroke-width="2.2" />
<line x1="989.80" y1="208.91" x2="983.80" y2="208.91" stroke="#000" stroke-width="2.2" />
<line x1="115.20" y1="196.96" x2="121.20" y2="196.96" stroke="#000" stroke-width="2.2" />
<line x1="989.80" y1="196.96" x2="983.80" y2="196.96" stroke="#000" stroke-width="2.2" />
<line x1="115.20" y1="186.43" x2="121.20" y2="186.43" stroke="#000" stroke-width="2.2" />
<line x1="989.80" y1="186.43" x2="983.80" y2="186.43" stroke="#000" stroke-width="2.2" />
<line x1="115.20" y1="177.00" x2="126.90" y2="177.00" stroke="#000" stroke-width="2.2" />
<line x1="989.80" y1="177.00" x2="978.10" y2="177.00" stroke="#000" stroke-width="2.2" />
<line x1="115.20" y1="114.99" x2="121.20" y2="114.99" stroke="#000" stroke-width="2.2" />
<line x1="989.80" y1="114.99" x2="983.80" y2="114.99" stroke="#000" stroke-width="2.2" />
<line x1="115.20" y1="78.71" x2="121.20" y2="78.71" stroke="#000" stroke-width="2.2" />
<line x1="989.80" y1="78.71" x2="983.80" y2="78.71" stroke="#000" stroke-width="2.2" />
<line x1="115.20" y1="52.98" x2="121.20" y2="52.98" stroke="#000" stroke-width="2.2" />
<line x1="989.80" y1="52.98" x2="983.80" y2="52.98" stroke="#000" stroke-width="2.2" />
<line x1="115.20" y1="33.01" x2="121.20" y2="33.01" stroke="#000" stroke-width="2.2" />
<line x1="989.80" y1="33.01" x2="983.80" y2="33.01" stroke="#000" stroke-width="2.2" />
<line x1="115.20" y1="16.70" x2="121.20" y2="16.70" stroke="#000" stroke-width="2.2" />
<line x1="989.80" y1="16.70" x2="983.80" y2="16.70" stroke="#000" stroke-width="2.2" />
<line x1="115.20" y1="2.91" x2="121.20" y2="2.91" stroke="#000" stroke-width="2.2" />
<line x1="989.80" y1="2.91" x2="983.80" y2="2.91" stroke="#000" stroke-width="2.2" />
<line x1="115.20" y1="1351.58" x2="121.20" y2="1351.58" stroke="#000" stroke-width="2.2" />
<line x1="989.80" y1="1351.58" x2="983.80" y2="1351.58" stroke="#000" stroke-width="2.2" />
<line x1="115.20" y1="1309.63" x2="121.20" y2="1309.63" stroke="#000" stroke-width="2.2" />
<line x1="989.80" y1="1309.63" x2="983.80" y2="1309.63" stroke="#000" stroke-width="2.2" />
<line x1="115.20" y1="1277.09" x2="121.20" y2="1277.09" stroke="#000" stroke-width="2.2" />
<line x1="989.80" y1="1277.09" x2="983.80" y2="1277.09" stroke="#000" stroke-width="2.2" />
<line x1="115.20" y1="1250.50" x2="121.20" y2="1250.50" stroke="#000" stroke-width="2.2" />
<line x1="989.80" y1="1250.50" x2="983.80" y2="1250.50" stroke="#000" stroke-width="2.2" />
<line x1="115.20" y1="1228.02" x2="121.20" y2="1228.02" stroke="#000" stroke-width="2.2" />
<line x1="989.80" y1="1228.02" x2="983.80" y2="1228.02" stroke="#000" stroke-width="2.2" />
<line x1="115.20" y1="1208.54" x2="121.20" y2="1208.54" stroke="#000" stroke-width="2.2" />
<line x1="989.80" y1="1208.54" x2="983.80" y2="1208.54" stroke="#000" stroke-width="2.2" />
<line x1="115.20" y1="1191.37" x2="121.20" y2="1191.37" stroke="#000" stroke-width="2.2" />
<line x1="989.80" y1="1191.37" x2="983.80" y2="1191.37" stroke="#000" stroke-width="2.2" />
<line x1="115.20" y1="1176.00" x2="126.90" y2="1176.00" stroke="#000" stroke-width="2.2" />
<line x1="989.80" y1="1176.00" x2="978.10" y2="1176.00" stroke="#000" stroke-width="2.2" />
<line x1="115.20" y1="1074.91" x2="121.20" y2="1074.91" stroke="#000" stroke-width="2.2" />
<line x1="989.80" y1="1074.91" x2="983.80" y2="1074.91" stroke="#000" stroke-width="2.2" />
<line x1="115.20" y1="1015.78" x2="121.20" y2="1015.78" stroke="#000" stroke-width="2.2" />
<line x1="989.80" y1="1015.78" x2="983.80" y2="1015.78" stroke="#000" stroke-width="2.2" />
<line x1="115.20" y1="973.83" x2="121.20" y2="973.83" stroke="#000" stroke-width="2.2" />
<line x1="989.80" y1="973.83" x2="983.80" y2="973.83" stroke="#000" stroke-width="2.2" />
<line x1="115.20" y1="941.29" x2="121.20" y2="941.29" stroke="#000" stroke-width="2.2" />
<line x1="989.80" y1="941.29" x2="983.80" y2="941.29" stroke="#000" stroke-width="2.2" />
<line x1="115.20" y1="914.70" x2="121.20" y2="914.70" stroke="#000" stroke-width="2.2" />
<line x1="989.80" y1="914.70" x2="983.80" y2="914.70" stroke="#000" stroke-width="2.2" />
<line x1="115.20" y1="892.22" x2="121.20" y2="892.22" stroke="#000" stroke-width="2.2" />
<line x1="989.80" y1="892.22" x2="983.80" y2="892.22" stroke="#000" stroke-width="2.2" />
<line x1="115.20" y1="872.74" x2="121.20" y2="872.74" stroke="#000" stroke-width="2.2" />
<line x1="989.80" y1="872.74" x2="983.80" y2="872.74" stroke="#000" stroke-width="2.2" />
<line x1="115.20" y1="855.57" x2="121.20" y2="855.57" stroke="#000" stroke-width="2.2" />
<line x1="989.80" y1="855.57" x2="983.80" y2="855.57" stroke="#000" stroke-width="2.2" />
<line x1="115.20" y1="840.20" x2="126.90" y2="840.20" stroke="#000" stroke-width="2.2" />
<line x1="989.80" y1="840.20" x2="978.10" y2="840.20" stroke="#000" stroke-width="2.2" />
<line x1="115.20" y1="739.11" x2="121.20" y2="739.11" stroke="#000" stroke-width="2.2" />
<line x1="989.80" y1="739.11" x2="983.80" y2="739.11" stroke="#000" stroke-width="2.2" />
<text transform="translate(58.20,188.50) scale(1,1.065)" font-size="30.2" font-weight="bold" text-anchor="start" stroke="#000" stroke-width="0.3">10<tspan dy="-11.83" font-size="21.2">5</tspan></text>
<text transform="translate(58.20,394.50) scale(1,1.065)" font-size="30.2" font-weight="bold" text-anchor="start" stroke="#000" stroke-width="0.3">10<tspan dy="-11.83" font-size="21.2">4</tspan></text>
<text transform="translate(58.20,600.50) scale(1,1.065)" font-size="30.2" font-weight="bold" text-anchor="start" stroke="#000" stroke-width="0.3">10<tspan dy="-11.83" font-size="21.2">3</tspan></text>
<text transform="translate(58.20,851.70) scale(1,1.065)" font-size="30.2" font-weight="bold" text-anchor="start" stroke="#000" stroke-width="0.3">10<tspan dy="-11.83" font-size="21.2">4</tspan></text>
<text transform="translate(58.20,1187.50) scale(1,1.065)" font-size="30.2" font-weight="bold" text-anchor="start" stroke="#000" stroke-width="0.3">10<tspan dy="-11.83" font-size="21.2">3</tspan></text>
<text transform="translate(115.42,1417.80) scale(1,1.065)" font-size="30.2" font-weight="bold" text-anchor="middle" stroke="#000" stroke-width="0.3">50</text>
<text transform="translate(460.10,1417.80) scale(1,1.065)" font-size="30.2" font-weight="bold" text-anchor="middle" stroke="#000" stroke-width="0.3">100</text>
<text transform="translate(661.72,1417.80) scale(1,1.065)" font-size="30.2" font-weight="bold" text-anchor="middle" stroke="#000" stroke-width="0.3">150</text>
<text transform="translate(804.78,1417.80) scale(1,1.065)" font-size="30.2" font-weight="bold" text-anchor="middle" stroke="#000" stroke-width="0.3">200</text>
<text transform="translate(915.74,1417.80) scale(1,1.065)" font-size="30.2" font-weight="bold" text-anchor="middle" stroke="#000" stroke-width="0.3">250</text>
<text transform="translate(553.00,1450.80) scale(1,1.065)" font-size="30.2" font-weight="bold" text-anchor="middle" stroke="#000" stroke-width="0.3"><tspan font-style="italic">T</tspan> (K)</text>
<text transform="translate(45.00,344.80) rotate(-90) scale(1,1.065)" font-size="30.2" font-weight="bold" text-anchor="middle" stroke="#000" stroke-width="0.3"><tspan font-size="32.5" font-style="italic" font-weight="normal" font-family="'Liberation Serif', 'DejaVu Serif', serif" stroke-width="0.7">ρ</tspan> (m<tspan font-weight="bold" stroke-width="0.2">Ω</tspan> cm)</text>
<text transform="translate(45.00,1032.80) rotate(-90) scale(1,1.065)" font-size="30.2" font-weight="bold" text-anchor="middle" stroke="#000" stroke-width="0.3"><tspan font-size="32.5" font-style="italic" font-weight="normal" font-family="'Liberation Serif', 'DejaVu Serif', serif" stroke-width="0.7">ρ</tspan> (m<tspan font-weight="bold" stroke-width="0.2">Ω</tspan> cm)</text>
<text transform="translate(177.60,58.50) scale(1,1.065)" font-size="30.2" font-weight="bold" text-anchor="start" stroke="#000" stroke-width="0.3">a) Lu<tspan dy="7.04" font-size="21.2">2</tspan><tspan dy="-7.04">Ir</tspan><tspan dy="7.04" font-size="21.2">2</tspan><tspan dy="-7.04">O</tspan><tspan dy="7.04" font-size="21.2">7</tspan></text>
<text transform="translate(177.60,749.40) scale(1,1.065)" font-size="30.2" font-weight="bold" text-anchor="start" stroke="#000" stroke-width="0.3">b) Er<tspan dy="7.04" font-size="21.2">2</tspan><tspan dy="-7.04">Ir</tspan><tspan dy="7.04" font-size="21.2">2</tspan><tspan dy="-7.04">O</tspan><tspan dy="7.04" font-size="21.2">7</tspan></text>
<rect x="131.70" y="435.30" width="4.8" height="4.8" fill="#808000"/>
<text transform="translate(168.60,448.20) scale(1,1.065)" font-size="30.2" font-weight="bold" text-anchor="start" stroke="#000" stroke-width="0.3">0 GPa</text>
<rect x="131.70" y="473.60" width="4.8" height="4.8" fill="#ff0000"/>
<text transform="translate(168.60,486.50) scale(1,1.065)" font-size="30.2" font-weight="bold" text-anchor="start" stroke="#000" stroke-width="0.3">0.5 GPa</text>
<rect x="131.70" y="511.80" width="4.8" height="4.8" fill="#00ff00"/>
<text transform="translate(168.60,524.70) scale(1,1.065)" font-size="30.2" font-weight="bold" text-anchor="start" stroke="#000" stroke-width="0.3">1.0 GPa</text>
<rect x="131.70" y="550.40" width="4.8" height="4.8" fill="#0000ff"/>
<text transform="translate(168.60,563.30) scale(1,1.065)" font-size="30.2" font-weight="bold" text-anchor="start" stroke="#000" stroke-width="0.3">1.5 GPa</text>
<rect x="131.70" y="589.00" width="4.8" height="4.8" fill="#00ffff"/>
<text transform="translate(168.60,601.90) scale(1,1.065)" font-size="30.2" font-weight="bold" text-anchor="start" stroke="#000" stroke-width="0.3">2.2 GPa</text>
<rect x="131.70" y="627.60" width="4.8" height="4.8" fill="#ff00ff"/>
<text transform="translate(168.60,640.50) scale(1,1.065)" font-size="30.2" font-weight="bold" text-anchor="start" stroke="#000" stroke-width="0.3">2.5 GPa</text>
<rect x="131.70" y="666.10" width="4.8" height="4.8" fill="#800080"/>
<text transform="translate(168.60,679.00) scale(1,1.065)" font-size="30.2" font-weight="bold" text-anchor="start" stroke="#000" stroke-width="0.3">3.0 GPa</text>
<rect x="152.60" y="1181.00" width="4.8" height="4.8" fill="#00ff00"/>
<text transform="translate(189.20,1193.90) scale(1,1.065)" font-size="30.2" font-weight="bold" text-anchor="start" stroke="#000" stroke-width="0.3">1.1 GPa</text>
<rect x="152.60" y="1219.90" width="4.8" height="4.8" fill="#0000ff"/>
<text transform="translate(189.20,1232.80) scale(1,1.065)" font-size="30.2" font-weight="bold" text-anchor="start" stroke="#000" stroke-width="0.3">1.7 GPa</text>
<rect x="152.60" y="1258.50" width="4.8" height="4.8" fill="#00ffff"/>
<text transform="translate(189.20,1271.40) scale(1,1.065)" font-size="30.2" font-weight="bold" text-anchor="start" stroke="#000" stroke-width="0.3">2.2 GPa</text>
<rect x="152.60" y="1297.10" width="4.8" height="4.8" fill="#ff00ff"/>
<text transform="translate(189.20,1310.00) scale(1,1.065)" font-size="30.2" font-weight="bold" text-anchor="start" stroke="#000" stroke-width="0.3">2.6 GPa</text>
<rect x="152.60" y="1335.70" width="4.8" height="4.8" fill="#800080"/>
<text transform="translate(189.20,1348.60) scale(1,1.065)" font-size="30.2" font-weight="bold" text-anchor="start" stroke="#000" stroke-width="0.3">2.9 GPa</text>
<text transform="translate(605.80,639.40) scale(1,1.065)" font-size="30.5" font-weight="normal" text-anchor="start" stroke="#000" stroke-width="0.15"><tspan font-style="italic">T</tspan><tspan dy="7.23" font-size="20.5">SI</tspan></text>
<text transform="translate(652.60,1320.60) scale(1,1.065)" font-size="30.5" font-weight="normal" text-anchor="start" stroke="#000" stroke-width="0.15"><tspan font-style="italic">T</tspan><tspan dy="7.23" font-size="20.5">SI</tspan></text>
<line x1="997.00" y1="604.00" x2="997.00" y2="488.50" stroke="#000" stroke-width="3.7" />
<polygon points="997.0,467.9 991.5,489.5 1002.5,489.5" fill="#000"/>
<line x1="996.70" y1="1302.70" x2="996.70" y2="1245.00" stroke="#00ff00" stroke-width="3.7" />
<polygon points="996.7,1224.4 991.2,1246.0 1002.2,1246.0" fill="#00ff00"/>
<polygon points="997.1,633.2 991.5,654.8 1002.7,654.8" fill="#ff00ff"/>
<polygon points="996.9,1333.4 991.4,1354.8 1002.4,1354.8" fill="#ff00ff"/>
<text transform="translate(1024.70,603.00) rotate(-90) scale(1,1.065)" font-size="30.3" font-weight="normal" text-anchor="start" stroke="#000" stroke-width="0.15">offset</text>
<text transform="translate(1024.70,1303.00) rotate(-90) scale(1,1.065)" font-size="30.3" font-weight="normal" text-anchor="start" stroke="#000" stroke-width="0.15">offset</text>
<rect x="106.8" y="1514.3" width="896.0" height="487.0" fill="none" stroke="#000" stroke-width="2.3"/>
<line x1="170.80" y1="1514.30" x2="170.80" y2="1526.00" stroke="#000" stroke-width="2.5" />
<line x1="170.80" y1="2001.30" x2="170.80" y2="1989.60" stroke="#000" stroke-width="2.5" />
<line x1="298.75" y1="1514.30" x2="298.75" y2="1520.30" stroke="#000" stroke-width="2.5" />
<line x1="298.75" y1="2001.30" x2="298.75" y2="1995.30" stroke="#000" stroke-width="2.5" />
<line x1="426.70" y1="1514.30" x2="426.70" y2="1526.00" stroke="#000" stroke-width="2.5" />
<line x1="426.70" y1="2001.30" x2="426.70" y2="1989.60" stroke="#000" stroke-width="2.5" />
<line x1="554.65" y1="1514.30" x2="554.65" y2="1520.30" stroke="#000" stroke-width="2.5" />
<line x1="554.65" y1="2001.30" x2="554.65" y2="1995.30" stroke="#000" stroke-width="2.5" />
<line x1="682.60" y1="1514.30" x2="682.60" y2="1526.00" stroke="#000" stroke-width="2.5" />
<line x1="682.60" y1="2001.30" x2="682.60" y2="1989.60" stroke="#000" stroke-width="2.5" />
<line x1="810.55" y1="1514.30" x2="810.55" y2="1520.30" stroke="#000" stroke-width="2.5" />
<line x1="810.55" y1="2001.30" x2="810.55" y2="1995.30" stroke="#000" stroke-width="2.5" />
<line x1="938.50" y1="1514.30" x2="938.50" y2="1526.00" stroke="#000" stroke-width="2.5" />
<line x1="938.50" y1="2001.30" x2="938.50" y2="1989.60" stroke="#000" stroke-width="2.5" />
<text transform="translate(93.60,2010.92) scale(1,1.065)" font-size="30.6" font-weight="bold" text-anchor="end" stroke="#000" stroke-width="0.3">80</text>
<line x1="106.80" y1="1972.67" x2="113.30" y2="1972.67" stroke="#000" stroke-width="2.5" />
<line x1="1002.80" y1="1972.67" x2="996.30" y2="1972.67" stroke="#000" stroke-width="2.5" />
<line x1="106.80" y1="1944.03" x2="118.80" y2="1944.03" stroke="#000" stroke-width="2.5" />
<line x1="1002.80" y1="1944.03" x2="990.80" y2="1944.03" stroke="#000" stroke-width="2.5" />
<text transform="translate(93.60,1953.63) scale(1,1.065)" font-size="30.6" font-weight="bold" text-anchor="end" stroke="#000" stroke-width="0.3">90</text>
<line x1="106.80" y1="1915.38" x2="113.30" y2="1915.38" stroke="#000" stroke-width="2.5" />
<line x1="1002.80" y1="1915.38" x2="996.30" y2="1915.38" stroke="#000" stroke-width="2.5" />
<line x1="106.80" y1="1886.74" x2="118.80" y2="1886.74" stroke="#000" stroke-width="2.5" />
<line x1="1002.80" y1="1886.74" x2="990.80" y2="1886.74" stroke="#000" stroke-width="2.5" />
<text transform="translate(93.60,1896.34) scale(1,1.065)" font-size="30.6" font-weight="bold" text-anchor="end" stroke="#000" stroke-width="0.3">100</text>
<line x1="106.80" y1="1858.10" x2="113.30" y2="1858.10" stroke="#000" stroke-width="2.5" />
<line x1="1002.80" y1="1858.10" x2="996.30" y2="1858.10" stroke="#000" stroke-width="2.5" />
<line x1="106.80" y1="1829.45" x2="118.80" y2="1829.45" stroke="#000" stroke-width="2.5" />
<line x1="1002.80" y1="1829.45" x2="990.80" y2="1829.45" stroke="#000" stroke-width="2.5" />
<text transform="translate(93.60,1839.05) scale(1,1.065)" font-size="30.6" font-weight="bold" text-anchor="end" stroke="#000" stroke-width="0.3">110</text>
<line x1="106.80" y1="1800.81" x2="113.30" y2="1800.81" stroke="#000" stroke-width="2.5" />
<line x1="1002.80" y1="1800.81" x2="996.30" y2="1800.81" stroke="#000" stroke-width="2.5" />
<line x1="106.80" y1="1772.16" x2="118.80" y2="1772.16" stroke="#000" stroke-width="2.5" />
<line x1="1002.80" y1="1772.16" x2="990.80" y2="1772.16" stroke="#000" stroke-width="2.5" />
<text transform="translate(93.60,1781.76) scale(1,1.065)" font-size="30.6" font-weight="bold" text-anchor="end" stroke="#000" stroke-width="0.3">120</text>
<line x1="106.80" y1="1743.52" x2="113.30" y2="1743.52" stroke="#000" stroke-width="2.5" />
<line x1="1002.80" y1="1743.52" x2="996.30" y2="1743.52" stroke="#000" stroke-width="2.5" />
<line x1="106.80" y1="1714.87" x2="118.80" y2="1714.87" stroke="#000" stroke-width="2.5" />
<line x1="1002.80" y1="1714.87" x2="990.80" y2="1714.87" stroke="#000" stroke-width="2.5" />
<text transform="translate(93.60,1724.47) scale(1,1.065)" font-size="30.6" font-weight="bold" text-anchor="end" stroke="#000" stroke-width="0.3">130</text>
<line x1="106.80" y1="1686.22" x2="113.30" y2="1686.22" stroke="#000" stroke-width="2.5" />
<line x1="1002.80" y1="1686.22" x2="996.30" y2="1686.22" stroke="#000" stroke-width="2.5" />
<line x1="106.80" y1="1657.58" x2="118.80" y2="1657.58" stroke="#000" stroke-width="2.5" />
<line x1="1002.80" y1="1657.58" x2="990.80" y2="1657.58" stroke="#000" stroke-width="2.5" />
<text transform="translate(93.60,1667.18) scale(1,1.065)" font-size="30.6" font-weight="bold" text-anchor="end" stroke="#000" stroke-width="0.3">140</text>
<line x1="106.80" y1="1628.93" x2="113.30" y2="1628.93" stroke="#000" stroke-width="2.5" />
<line x1="1002.80" y1="1628.93" x2="996.30" y2="1628.93" stroke="#000" stroke-width="2.5" />
<line x1="106.80" y1="1600.29" x2="118.80" y2="1600.29" stroke="#000" stroke-width="2.5" />
<line x1="1002.80" y1="1600.29" x2="990.80" y2="1600.29" stroke="#000" stroke-width="2.5" />
<text transform="translate(93.60,1609.89) scale(1,1.065)" font-size="30.6" font-weight="bold" text-anchor="end" stroke="#000" stroke-width="0.3">150</text>
<line x1="106.80" y1="1571.64" x2="113.30" y2="1571.64" stroke="#000" stroke-width="2.5" />
<line x1="1002.80" y1="1571.64" x2="996.30" y2="1571.64" stroke="#000" stroke-width="2.5" />
<line x1="106.80" y1="1543.00" x2="118.80" y2="1543.00" stroke="#000" stroke-width="2.5" />
<line x1="1002.80" y1="1543.00" x2="990.80" y2="1543.00" stroke="#000" stroke-width="2.5" />
<text transform="translate(93.60,1552.60) scale(1,1.065)" font-size="30.6" font-weight="bold" text-anchor="end" stroke="#000" stroke-width="0.3">160</text>
<text transform="translate(170.80,2039.60) scale(1,1.065)" font-size="30.6" font-weight="bold" text-anchor="middle" stroke="#000" stroke-width="0.3">0</text>
<text transform="translate(426.70,2039.60) scale(1,1.065)" font-size="30.6" font-weight="bold" text-anchor="middle" stroke="#000" stroke-width="0.3">1</text>
<text transform="translate(682.60,2039.60) scale(1,1.065)" font-size="30.6" font-weight="bold" text-anchor="middle" stroke="#000" stroke-width="0.3">2</text>
<text transform="translate(938.50,2039.60) scale(1,1.065)" font-size="30.6" font-weight="bold" text-anchor="middle" stroke="#000" stroke-width="0.3">3</text>
<text transform="translate(554.90,2078.20) scale(1,1.065)" font-size="31.0" font-weight="bold" text-anchor="middle" stroke="#000" stroke-width="0.3"><tspan font-style="italic">P</tspan> (GPa)</text>
<text transform="translate(22.80,1835.20) rotate(-90) scale(1,1.065)" font-size="30.2" font-weight="bold" text-anchor="start" stroke="#000" stroke-width="0.3"><tspan font-style="italic">T</tspan><tspan dy="7.04" font-size="21.2">MI</tspan><tspan dy="-7.04"> , </tspan><tspan font-style="italic">T</tspan><tspan dy="7.04" font-size="21.2">SI</tspan><tspan dy="-7.04"> (K)</tspan></text>
<text transform="translate(170.60,1564.30) scale(1,1.065)" font-size="31.2" font-weight="bold" text-anchor="start" stroke="#000" stroke-width="0.3">c) <tspan font-style="italic">A</tspan><tspan dy="7.04" font-size="21.2">2</tspan><tspan dy="-7.04">Ir</tspan><tspan dy="7.04" font-size="21.2">2</tspan><tspan dy="-7.04">O</tspan><tspan dy="7.04" font-size="21.2">7</tspan></text>
<polygon points="171.57,1724.52 174.01,1731.56 181.46,1731.71 175.52,1736.21 177.68,1743.34 171.57,1739.08 165.45,1743.34 167.61,1736.21 161.68,1731.71 169.12,1731.56" fill="#00ff00" fill-opacity="0.6"/>
<polygon points="210.46,1724.52 212.91,1731.56 220.36,1731.71 214.42,1736.21 216.58,1743.34 210.46,1739.08 204.35,1743.34 206.51,1736.21 200.57,1731.71 208.02,1731.56" fill="#00ff00" fill-opacity="0.6"/>
<polygon points="302.59,1704.47 305.03,1711.50 312.48,1711.66 306.54,1716.16 308.70,1723.28 302.59,1719.03 296.48,1723.28 298.63,1716.16 292.70,1711.66 300.14,1711.50" fill="#00ff00" fill-opacity="0.6"/>
<polygon points="375.52,1697.60 377.97,1704.63 385.41,1704.78 379.48,1709.28 381.63,1716.41 375.52,1712.16 369.41,1716.41 371.56,1709.28 365.63,1704.78 373.07,1704.63" fill="#00ff00" fill-opacity="0.6"/>
<polygon points="429.26,1690.72 431.70,1697.75 439.15,1697.91 433.22,1702.41 435.37,1709.53 429.26,1705.28 423.15,1709.53 425.30,1702.41 419.37,1697.91 426.81,1697.75" fill="#00ff00" fill-opacity="0.6"/>
<polygon points="499.63,1679.84 502.08,1686.87 509.52,1687.02 503.59,1691.52 505.74,1698.65 499.63,1694.40 493.52,1698.65 495.68,1691.52 489.74,1687.02 497.19,1686.87" fill="#00ff00" fill-opacity="0.6"/>
<polygon points="562.33,1676.40 564.77,1683.43 572.22,1683.58 566.28,1688.08 568.44,1695.21 562.33,1690.96 556.21,1695.21 558.37,1688.08 552.44,1683.58 559.88,1683.43" fill="#00ff00" fill-opacity="0.6"/>
<polygon points="622.98,1657.49 625.42,1664.53 632.87,1664.68 626.93,1669.18 629.09,1676.31 622.98,1672.05 616.86,1676.31 619.02,1669.18 613.08,1664.68 620.53,1664.53" fill="#00ff00" fill-opacity="0.6"/>
<polygon points="736.08,1650.62 738.53,1657.65 745.97,1657.80 740.04,1662.30 742.20,1669.43 736.08,1665.18 729.97,1669.43 732.13,1662.30 726.19,1657.80 733.64,1657.65" fill="#00ff00" fill-opacity="0.6"/>
<polygon points="171.82,1765.20 174.27,1772.23 181.71,1772.38 175.78,1776.88 177.94,1784.01 171.82,1779.76 165.71,1784.01 167.87,1776.88 161.93,1772.38 169.38,1772.23" fill="#0000ff" fill-opacity="0.6"/>
<polygon points="212.51,1760.04 214.96,1767.08 222.40,1767.23 216.47,1771.73 218.62,1778.86 212.51,1774.60 206.40,1778.86 208.56,1771.73 202.62,1767.23 210.07,1767.08" fill="#0000ff" fill-opacity="0.6"/>
<polygon points="294.40,1752.02 296.84,1759.06 304.29,1759.21 298.36,1763.71 300.51,1770.83 294.40,1766.58 288.29,1770.83 290.44,1763.71 284.51,1759.21 291.95,1759.06" fill="#0000ff" fill-opacity="0.6"/>
<polygon points="356.33,1749.16 358.77,1756.19 366.22,1756.34 360.28,1760.84 362.44,1767.97 356.33,1763.72 350.21,1767.97 352.37,1760.84 346.44,1756.34 353.88,1756.19" fill="#0000ff" fill-opacity="0.6"/>
<polygon points="438.22,1747.44 440.66,1754.47 448.11,1754.62 442.17,1759.12 444.33,1766.25 438.22,1762.00 432.10,1766.25 434.26,1759.12 428.32,1754.62 435.77,1754.47" fill="#0000ff" fill-opacity="0.6"/>
<polygon points="520.10,1734.83 522.55,1741.87 529.99,1742.02 524.06,1746.52 526.22,1753.65 520.10,1749.39 513.99,1753.65 516.15,1746.52 510.21,1742.02 517.66,1741.87" fill="#0000ff" fill-opacity="0.6"/>
<polygon points="601.48,1727.39 603.92,1734.42 611.37,1734.57 605.44,1739.07 607.59,1746.20 601.48,1741.95 595.37,1746.20 597.52,1739.07 591.59,1734.57 599.03,1734.42" fill="#0000ff" fill-opacity="0.6"/>
<polygon points="683.37,1723.38 685.81,1730.41 693.26,1730.56 687.32,1735.06 689.48,1742.19 683.37,1737.94 677.25,1742.19 679.41,1735.06 673.48,1730.56 680.92,1730.41" fill="#0000ff" fill-opacity="0.6"/>
<polygon points="745.30,1722.80 747.74,1729.84 755.19,1729.99 749.25,1734.49 751.41,1741.62 745.30,1737.36 739.18,1741.62 741.34,1734.49 735.40,1729.99 742.85,1729.84" fill="#0000ff" fill-opacity="0.6"/>
<polygon points="170.80,1771.50 173.25,1778.53 180.69,1778.69 174.76,1783.18 176.91,1790.31 170.80,1786.06 164.69,1790.31 166.84,1783.18 160.91,1778.69 168.35,1778.53" fill="#808000" fill-opacity="0.6"/>
<polygon points="210.46,1798.43 212.91,1805.46 220.36,1805.61 214.42,1810.11 216.58,1817.24 210.46,1812.99 204.35,1817.24 206.51,1810.11 200.57,1805.61 208.02,1805.46" fill="#808000" fill-opacity="0.6"/>
<polygon points="300.03,1806.45 302.47,1813.48 309.92,1813.63 303.99,1818.13 306.14,1825.26 300.03,1821.01 293.92,1825.26 296.07,1818.13 290.14,1813.63 297.58,1813.48" fill="#808000" fill-opacity="0.6"/>
<polygon points="375.52,1829.94 377.97,1836.97 385.41,1837.12 379.48,1841.62 381.63,1848.75 375.52,1844.50 369.41,1848.75 371.56,1841.62 365.63,1837.12 373.07,1836.97" fill="#808000" fill-opacity="0.6"/>
<polygon points="428.49,1835.66 430.94,1842.70 438.38,1842.85 432.45,1847.35 434.60,1854.48 428.49,1850.22 422.38,1854.48 424.53,1847.35 418.60,1842.85 426.05,1842.70" fill="#808000" fill-opacity="0.6"/>
<polygon points="499.38,1854.57 501.82,1861.60 509.27,1861.76 503.33,1866.26 505.49,1873.38 499.38,1869.13 493.26,1873.38 495.42,1866.26 489.48,1861.76 496.93,1861.60" fill="#808000" fill-opacity="0.6"/>
<polygon points="561.56,1891.24 564.00,1898.27 571.45,1898.42 565.52,1902.92 567.67,1910.05 561.56,1905.80 555.45,1910.05 557.60,1902.92 551.67,1898.42 559.11,1898.27" fill="#808000" fill-opacity="0.6"/>
<polygon points="622.98,1903.27 625.42,1910.30 632.87,1910.45 626.93,1914.95 629.09,1922.08 622.98,1917.83 616.86,1922.08 619.02,1914.95 613.08,1910.45 620.53,1910.30" fill="#808000" fill-opacity="0.6"/>
<polygon points="734.29,1946.23 736.74,1953.27 744.18,1953.42 738.25,1957.92 740.40,1965.05 734.29,1960.79 728.18,1965.05 730.34,1957.92 724.40,1953.42 731.85,1953.27" fill="#808000" fill-opacity="0.6"/>
<line x1="170.80" y1="1749.24" x2="170.80" y2="1863.82" stroke="#000" stroke-width="2.0" />
<line x1="164.95" y1="1749.24" x2="176.65" y2="1749.24" stroke="#000" stroke-width="2.0" />
<line x1="164.95" y1="1863.82" x2="176.65" y2="1863.82" stroke="#000" stroke-width="2.0" />
<rect x="164.30" y="1800.03" width="13" height="13" fill="#000"/>
<line x1="301.31" y1="1691.95" x2="301.31" y2="1806.53" stroke="#000" stroke-width="2.0" />
<line x1="295.46" y1="1691.95" x2="307.16" y2="1691.95" stroke="#000" stroke-width="2.0" />
<line x1="295.46" y1="1806.53" x2="307.16" y2="1806.53" stroke="#000" stroke-width="2.0" />
<rect x="294.81" y="1742.74" width="13" height="13" fill="#000"/>
<line x1="430.03" y1="1651.85" x2="430.03" y2="1766.43" stroke="#000" stroke-width="2.0" />
<line x1="424.18" y1="1651.85" x2="435.88" y2="1651.85" stroke="#000" stroke-width="2.0" />
<line x1="424.18" y1="1766.43" x2="435.88" y2="1766.43" stroke="#000" stroke-width="2.0" />
<rect x="423.53" y="1702.64" width="13" height="13" fill="#000"/>
<line x1="553.63" y1="1634.66" x2="553.63" y2="1749.24" stroke="#000" stroke-width="2.0" />
<line x1="547.78" y1="1634.66" x2="559.48" y2="1634.66" stroke="#000" stroke-width="2.0" />
<line x1="547.78" y1="1749.24" x2="559.48" y2="1749.24" stroke="#000" stroke-width="2.0" />
<rect x="547.13" y="1685.45" width="13" height="13" fill="#000"/>
<line x1="649.33" y1="1623.21" x2="649.33" y2="1737.79" stroke="#000" stroke-width="2.0" />
<line x1="643.48" y1="1623.21" x2="655.18" y2="1623.21" stroke="#000" stroke-width="2.0" />
<line x1="643.48" y1="1737.79" x2="655.18" y2="1737.79" stroke="#000" stroke-width="2.0" />
<rect x="642.83" y="1674.00" width="13" height="13" fill="#000"/>
<line x1="728.15" y1="1617.48" x2="728.15" y2="1732.06" stroke="#000" stroke-width="2.0" />
<line x1="722.30" y1="1617.48" x2="734.00" y2="1617.48" stroke="#000" stroke-width="2.0" />
<line x1="722.30" y1="1732.06" x2="734.00" y2="1732.06" stroke="#000" stroke-width="2.0" />
<rect x="721.65" y="1668.27" width="13" height="13" fill="#000"/>
<line x1="804.41" y1="1611.75" x2="804.41" y2="1726.33" stroke="#000" stroke-width="2.0" />
<line x1="798.56" y1="1611.75" x2="810.26" y2="1611.75" stroke="#000" stroke-width="2.0" />
<line x1="798.56" y1="1726.33" x2="810.26" y2="1726.33" stroke="#000" stroke-width="2.0" />
<rect x="797.91" y="1662.54" width="13" height="13" fill="#000"/>
<line x1="935.43" y1="1594.56" x2="935.43" y2="1709.14" stroke="#000" stroke-width="2.0" />
<line x1="929.58" y1="1594.56" x2="941.28" y2="1594.56" stroke="#000" stroke-width="2.0" />
<line x1="929.58" y1="1709.14" x2="941.28" y2="1709.14" stroke="#000" stroke-width="2.0" />
<rect x="928.93" y="1645.35" width="13" height="13" fill="#000"/>
<line x1="170.80" y1="1663.31" x2="170.80" y2="1732.06" stroke="#ff0000" stroke-width="2.0" />
<line x1="164.95" y1="1663.31" x2="176.65" y2="1663.31" stroke="#ff0000" stroke-width="2.0" />
<line x1="164.95" y1="1732.06" x2="176.65" y2="1732.06" stroke="#ff0000" stroke-width="2.0" />
<circle cx="170.80" cy="1697.68" r="7.3" fill="#ff0000"/>
<line x1="447.68" y1="1611.75" x2="447.68" y2="1680.50" stroke="#ff0000" stroke-width="2.0" />
<line x1="441.83" y1="1611.75" x2="453.53" y2="1611.75" stroke="#ff0000" stroke-width="2.0" />
<line x1="441.83" y1="1680.50" x2="453.53" y2="1680.50" stroke="#ff0000" stroke-width="2.0" />
<circle cx="447.68" cy="1646.12" r="7.3" fill="#ff0000"/>
<line x1="593.55" y1="1588.83" x2="593.55" y2="1657.58" stroke="#ff0000" stroke-width="2.0" />
<line x1="587.70" y1="1588.83" x2="599.40" y2="1588.83" stroke="#ff0000" stroke-width="2.0" />
<line x1="587.70" y1="1657.58" x2="599.40" y2="1657.58" stroke="#ff0000" stroke-width="2.0" />
<circle cx="593.55" cy="1623.21" r="7.3" fill="#ff0000"/>
<line x1="741.71" y1="1577.37" x2="741.71" y2="1646.12" stroke="#ff0000" stroke-width="2.0" />
<line x1="735.86" y1="1577.37" x2="747.56" y2="1577.37" stroke="#ff0000" stroke-width="2.0" />
<line x1="735.86" y1="1646.12" x2="747.56" y2="1646.12" stroke="#ff0000" stroke-width="2.0" />
<circle cx="741.71" cy="1611.75" r="7.3" fill="#ff0000"/>
<line x1="835.63" y1="1560.19" x2="835.63" y2="1628.93" stroke="#ff0000" stroke-width="2.0" />
<line x1="829.78" y1="1560.19" x2="841.48" y2="1560.19" stroke="#ff0000" stroke-width="2.0" />
<line x1="829.78" y1="1628.93" x2="841.48" y2="1628.93" stroke="#ff0000" stroke-width="2.0" />
<circle cx="835.63" cy="1594.56" r="7.3" fill="#ff0000"/>
<line x1="902.16" y1="1543.00" x2="902.16" y2="1611.75" stroke="#ff0000" stroke-width="2.0" />
<line x1="896.31" y1="1543.00" x2="908.01" y2="1543.00" stroke="#ff0000" stroke-width="2.0" />
<line x1="896.31" y1="1611.75" x2="908.01" y2="1611.75" stroke="#ff0000" stroke-width="2.0" />
<circle cx="902.16" cy="1577.37" r="7.3" fill="#ff0000"/>
<rect x="783.6" y="1762.5" width="191.19999999999993" height="201.5" fill="#fff" stroke="#000" stroke-width="1"/>
<rect x="816.0" y="1778.6" width="13" height="13" fill="#000"/>
<circle cx="822.5" cy="1824.3" r="7.3" fill="#ff0000"/>
<polygon points="822.50,1853.20 824.95,1860.23 832.39,1860.39 826.46,1864.89 828.61,1872.01 822.50,1867.76 816.39,1872.01 818.54,1864.89 812.61,1860.39 820.05,1860.23" fill="#00ff00" fill-opacity="0.6"/>
<polygon points="822.50,1892.50 824.95,1899.53 832.39,1899.69 826.46,1904.19 828.61,1911.31 822.50,1907.06 816.39,1911.31 818.54,1904.19 812.61,1899.69 820.05,1899.53" fill="#0000ff" fill-opacity="0.6"/>
<polygon points="822.50,1931.70 824.95,1938.73 832.39,1938.89 826.46,1943.39 828.61,1950.51 822.50,1946.26 816.39,1950.51 818.54,1943.39 812.61,1938.89 820.05,1938.73" fill="#808000" fill-opacity="0.6"/>
<text transform="translate(857.80,1795.70) scale(1,1.065)" font-size="31.0" font-weight="bold" text-anchor="start" stroke="#000" stroke-width="0.3">Lu</text>
<text transform="translate(857.80,1834.90) scale(1,1.065)" font-size="31.0" font-weight="bold" text-anchor="start" stroke="#000" stroke-width="0.3">Er</text>
<text transform="translate(857.80,1874.20) scale(1,1.065)" font-size="31.0" font-weight="bold" text-anchor="start" stroke="#000" stroke-width="0.3">Gd [28]</text>
<text transform="translate(857.80,1913.50) scale(1,1.065)" font-size="31.0" font-weight="bold" text-anchor="start" stroke="#000" stroke-width="0.3">Eu [28]</text>
<text transform="translate(857.80,1952.70) scale(1,1.065)" font-size="31.0" font-weight="bold" text-anchor="start" stroke="#000" stroke-width="0.3">Sm [28]</text>
</svg>
</body></html>
